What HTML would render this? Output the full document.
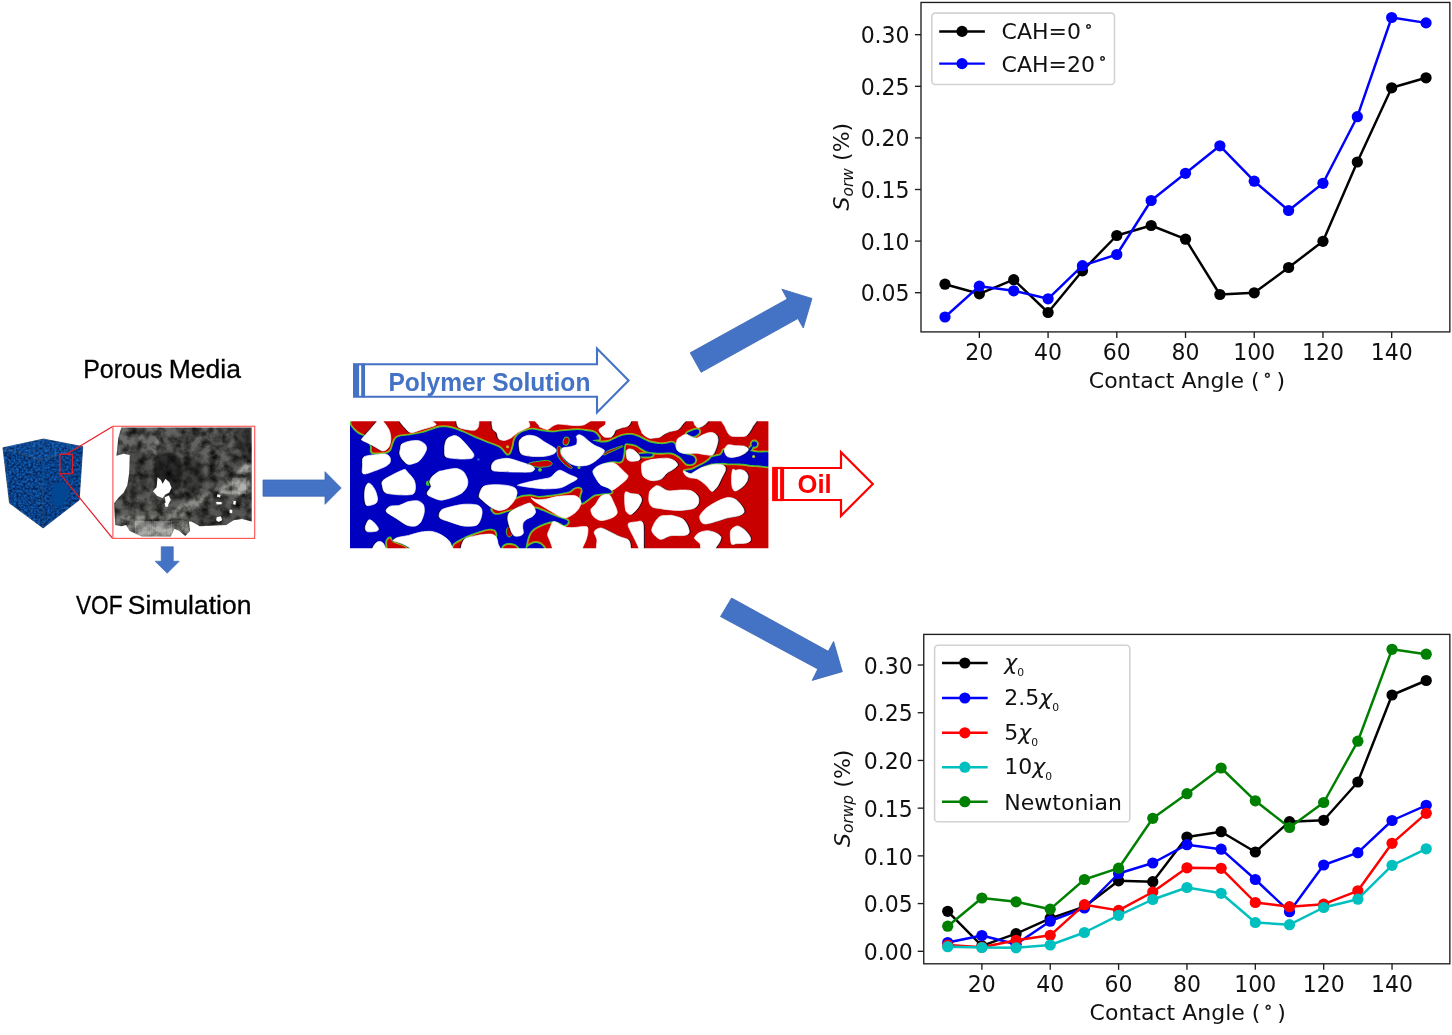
<!DOCTYPE html>
<html lang="en"><head><meta charset="utf-8"><title>Graphical abstract</title>
<style>
html,body{margin:0;padding:0;background:#fff}
body{width:1452px;height:1035px;overflow:hidden;position:relative}
svg{position:absolute;left:0;top:0;display:block}
</style></head><body>
<svg width="1452" height="1035" viewBox="0 0 1452 1035">
<g font-family="'DejaVu Sans','Liberation Sans',sans-serif" fill="#111"><rect x="921" y="2.45" width="528.85" height="329.45" fill="#fff"/><polyline points="945,284.2 979.36,293.8 1013.72,279.7 1048.08,312.5 1082.44,270.8 1116.8,235.5 1151.16,225.5 1185.52,239.2 1219.88,294.5 1254.24,292.8 1288.6,267.5 1322.96,241.3 1357.32,162 1391.68,87.8 1426.04,77.8" fill="none" stroke="#000" stroke-width="2.45" stroke-linejoin="round" stroke-linecap="butt"/><circle cx="945" cy="284.2" r="5.62" fill="#000"/><circle cx="979.36" cy="293.8" r="5.62" fill="#000"/><circle cx="1013.72" cy="279.7" r="5.62" fill="#000"/><circle cx="1048.08" cy="312.5" r="5.62" fill="#000"/><circle cx="1082.44" cy="270.8" r="5.62" fill="#000"/><circle cx="1116.8" cy="235.5" r="5.62" fill="#000"/><circle cx="1151.16" cy="225.5" r="5.62" fill="#000"/><circle cx="1185.52" cy="239.2" r="5.62" fill="#000"/><circle cx="1219.88" cy="294.5" r="5.62" fill="#000"/><circle cx="1254.24" cy="292.8" r="5.62" fill="#000"/><circle cx="1288.6" cy="267.5" r="5.62" fill="#000"/><circle cx="1322.96" cy="241.3" r="5.62" fill="#000"/><circle cx="1357.32" cy="162" r="5.62" fill="#000"/><circle cx="1391.68" cy="87.8" r="5.62" fill="#000"/><circle cx="1426.04" cy="77.8" r="5.62" fill="#000"/><polyline points="945,317 979.36,286.2 1013.72,290.8 1048.08,298.8 1082.44,265.7 1116.8,254.5 1151.16,200.5 1185.52,173.3 1219.88,145.8 1254.24,181.2 1288.6,210.5 1322.96,183.3 1357.32,116.7 1391.68,17.5 1426.04,22.9" fill="none" stroke="#0000ff" stroke-width="2.45" stroke-linejoin="round" stroke-linecap="butt"/><circle cx="945" cy="317" r="5.62" fill="#0000ff"/><circle cx="979.36" cy="286.2" r="5.62" fill="#0000ff"/><circle cx="1013.72" cy="290.8" r="5.62" fill="#0000ff"/><circle cx="1048.08" cy="298.8" r="5.62" fill="#0000ff"/><circle cx="1082.44" cy="265.7" r="5.62" fill="#0000ff"/><circle cx="1116.8" cy="254.5" r="5.62" fill="#0000ff"/><circle cx="1151.16" cy="200.5" r="5.62" fill="#0000ff"/><circle cx="1185.52" cy="173.3" r="5.62" fill="#0000ff"/><circle cx="1219.88" cy="145.8" r="5.62" fill="#0000ff"/><circle cx="1254.24" cy="181.2" r="5.62" fill="#0000ff"/><circle cx="1288.6" cy="210.5" r="5.62" fill="#0000ff"/><circle cx="1322.96" cy="183.3" r="5.62" fill="#0000ff"/><circle cx="1357.32" cy="116.7" r="5.62" fill="#0000ff"/><circle cx="1391.68" cy="17.5" r="5.62" fill="#0000ff"/><circle cx="1426.04" cy="22.9" r="5.62" fill="#0000ff"/><line x1="979.36" y1="331.9" x2="979.36" y2="337.97" stroke="#1e1e1e" stroke-width="1.35"/><text x="979.36" y="359.32" text-anchor="middle" font-size="22" transform="translate(0,351.29) scale(1,1.06) translate(0,-351.29)">20</text><line x1="1048.08" y1="331.9" x2="1048.08" y2="337.97" stroke="#1e1e1e" stroke-width="1.35"/><text x="1048.08" y="359.32" text-anchor="middle" font-size="22" transform="translate(0,351.29) scale(1,1.06) translate(0,-351.29)">40</text><line x1="1116.8" y1="331.9" x2="1116.8" y2="337.97" stroke="#1e1e1e" stroke-width="1.35"/><text x="1116.8" y="359.32" text-anchor="middle" font-size="22" transform="translate(0,351.29) scale(1,1.06) translate(0,-351.29)">60</text><line x1="1185.52" y1="331.9" x2="1185.52" y2="337.97" stroke="#1e1e1e" stroke-width="1.35"/><text x="1185.52" y="359.32" text-anchor="middle" font-size="22" transform="translate(0,351.29) scale(1,1.06) translate(0,-351.29)">80</text><line x1="1254.24" y1="331.9" x2="1254.24" y2="337.97" stroke="#1e1e1e" stroke-width="1.35"/><text x="1254.24" y="359.32" text-anchor="middle" font-size="22" transform="translate(0,351.29) scale(1,1.06) translate(0,-351.29)">100</text><line x1="1322.96" y1="331.9" x2="1322.96" y2="337.97" stroke="#1e1e1e" stroke-width="1.35"/><text x="1322.96" y="359.32" text-anchor="middle" font-size="22" transform="translate(0,351.29) scale(1,1.06) translate(0,-351.29)">120</text><line x1="1391.68" y1="331.9" x2="1391.68" y2="337.97" stroke="#1e1e1e" stroke-width="1.35"/><text x="1391.68" y="359.32" text-anchor="middle" font-size="22" transform="translate(0,351.29) scale(1,1.06) translate(0,-351.29)">140</text><line x1="914.93" y1="292.7" x2="921" y2="292.7" stroke="#1e1e1e" stroke-width="1.35"/><text x="909.6" y="300.71" text-anchor="end" font-size="22" transform="translate(0,292.68) scale(1,1.06) translate(0,-292.68)">0.05</text><line x1="914.93" y1="241.1" x2="921" y2="241.1" stroke="#1e1e1e" stroke-width="1.35"/><text x="909.6" y="249.11" text-anchor="end" font-size="22" transform="translate(0,241.08) scale(1,1.06) translate(0,-241.08)">0.10</text><line x1="914.93" y1="189.5" x2="921" y2="189.5" stroke="#1e1e1e" stroke-width="1.35"/><text x="909.6" y="197.51" text-anchor="end" font-size="22" transform="translate(0,189.48) scale(1,1.06) translate(0,-189.48)">0.15</text><line x1="914.93" y1="137.9" x2="921" y2="137.9" stroke="#1e1e1e" stroke-width="1.35"/><text x="909.6" y="145.91" text-anchor="end" font-size="22" transform="translate(0,137.88) scale(1,1.06) translate(0,-137.88)">0.20</text><line x1="914.93" y1="86.3" x2="921" y2="86.3" stroke="#1e1e1e" stroke-width="1.35"/><text x="909.6" y="94.31" text-anchor="end" font-size="22" transform="translate(0,86.28) scale(1,1.06) translate(0,-86.28)">0.25</text><line x1="914.93" y1="34.7" x2="921" y2="34.7" stroke="#1e1e1e" stroke-width="1.35"/><text x="909.6" y="42.71" text-anchor="end" font-size="22" transform="translate(0,34.68) scale(1,1.06) translate(0,-34.68)">0.30</text><rect x="921" y="2.45" width="528.85" height="329.45" fill="none" stroke="#1e1e1e" stroke-width="1.35"/><rect x="931.8" y="13.1" width="182.7" height="71.4" rx="3.4" ry="3.4" fill="#fff" fill-opacity="0.8" stroke="#d2d2d2" stroke-width="1.6"/><line x1="940.44" y1="31.4" x2="983.64" y2="31.4" stroke="#000" stroke-width="2.45" stroke-linecap="square"/><circle cx="962.04" cy="31.4" r="5.62" fill="#000"/><line x1="940.44" y1="63.6" x2="983.64" y2="63.6" stroke="#0000ff" stroke-width="2.45" stroke-linecap="square"/><circle cx="962.04" cy="63.6" r="5.62" fill="#0000ff"/><text x="1001.52" y="39.32" font-size="22">CAH=0<tspan font-size="14.52" dy="-8.8" dx="3" stroke="#111" stroke-width="0.45">∘</tspan></text><text x="1001.52" y="71.52" font-size="22">CAH=20<tspan font-size="14.52" dy="-8.8" dx="3" stroke="#111" stroke-width="0.45">∘</tspan></text><text x="1088.8" y="388.2" font-size="22">Contact Angle (<tspan font-size="15.4" dy="-7.92" dx="3.2" stroke="#111" stroke-width="0.45">∘</tspan><tspan dy="7.92" dx="4">)</tspan></text><text transform="translate(849.2,210.5) rotate(-90)" font-size="22"><tspan font-style="italic">S</tspan><tspan font-style="italic" font-size="15.4" dy="3.52">orw</tspan><tspan dy="-3.52" dx="7.26">(%)</tspan></text></g>
<g font-family="'DejaVu Sans','Liberation Sans',sans-serif" fill="#111"><rect x="923.75" y="634.4" width="526.1" height="329.4" fill="#fff"/><polyline points="947.7,911.3 981.88,945.8 1016.06,933.7 1050.24,918.3 1084.42,906.7 1118.6,880.8 1152.78,881.7 1186.96,837 1221.14,831.7 1255.32,852 1289.5,821.7 1323.68,820.3 1357.86,782 1392.04,695 1426.22,680.5" fill="none" stroke="#000" stroke-width="2.45" stroke-linejoin="round" stroke-linecap="butt"/><circle cx="947.7" cy="911.3" r="5.62" fill="#000"/><circle cx="981.88" cy="945.8" r="5.62" fill="#000"/><circle cx="1016.06" cy="933.7" r="5.62" fill="#000"/><circle cx="1050.24" cy="918.3" r="5.62" fill="#000"/><circle cx="1084.42" cy="906.7" r="5.62" fill="#000"/><circle cx="1118.6" cy="880.8" r="5.62" fill="#000"/><circle cx="1152.78" cy="881.7" r="5.62" fill="#000"/><circle cx="1186.96" cy="837" r="5.62" fill="#000"/><circle cx="1221.14" cy="831.7" r="5.62" fill="#000"/><circle cx="1255.32" cy="852" r="5.62" fill="#000"/><circle cx="1289.5" cy="821.7" r="5.62" fill="#000"/><circle cx="1323.68" cy="820.3" r="5.62" fill="#000"/><circle cx="1357.86" cy="782" r="5.62" fill="#000"/><circle cx="1392.04" cy="695" r="5.62" fill="#000"/><circle cx="1426.22" cy="680.5" r="5.62" fill="#000"/><polyline points="947.7,942.5 981.88,935.5 1016.06,944.2 1050.24,921.2 1084.42,908 1118.6,873.5 1152.78,863 1186.96,844.7 1221.14,849.2 1255.32,879.5 1289.5,911.7 1323.68,865 1357.86,852.7 1392.04,820.5 1426.22,805.3" fill="none" stroke="#0000ff" stroke-width="2.45" stroke-linejoin="round" stroke-linecap="butt"/><circle cx="947.7" cy="942.5" r="5.62" fill="#0000ff"/><circle cx="981.88" cy="935.5" r="5.62" fill="#0000ff"/><circle cx="1016.06" cy="944.2" r="5.62" fill="#0000ff"/><circle cx="1050.24" cy="921.2" r="5.62" fill="#0000ff"/><circle cx="1084.42" cy="908" r="5.62" fill="#0000ff"/><circle cx="1118.6" cy="873.5" r="5.62" fill="#0000ff"/><circle cx="1152.78" cy="863" r="5.62" fill="#0000ff"/><circle cx="1186.96" cy="844.7" r="5.62" fill="#0000ff"/><circle cx="1221.14" cy="849.2" r="5.62" fill="#0000ff"/><circle cx="1255.32" cy="879.5" r="5.62" fill="#0000ff"/><circle cx="1289.5" cy="911.7" r="5.62" fill="#0000ff"/><circle cx="1323.68" cy="865" r="5.62" fill="#0000ff"/><circle cx="1357.86" cy="852.7" r="5.62" fill="#0000ff"/><circle cx="1392.04" cy="820.5" r="5.62" fill="#0000ff"/><circle cx="1426.22" cy="805.3" r="5.62" fill="#0000ff"/><polyline points="947.7,945 981.88,947.2 1016.06,940.3 1050.24,935.3 1084.42,904.7 1118.6,910.4 1152.78,892 1186.96,867.8 1221.14,868.3 1255.32,902.5 1289.5,906.7 1323.68,904.2 1357.86,890.8 1392.04,843.3 1426.22,813.3" fill="none" stroke="#ff0000" stroke-width="2.45" stroke-linejoin="round" stroke-linecap="butt"/><circle cx="947.7" cy="945" r="5.62" fill="#ff0000"/><circle cx="981.88" cy="947.2" r="5.62" fill="#ff0000"/><circle cx="1016.06" cy="940.3" r="5.62" fill="#ff0000"/><circle cx="1050.24" cy="935.3" r="5.62" fill="#ff0000"/><circle cx="1084.42" cy="904.7" r="5.62" fill="#ff0000"/><circle cx="1118.6" cy="910.4" r="5.62" fill="#ff0000"/><circle cx="1152.78" cy="892" r="5.62" fill="#ff0000"/><circle cx="1186.96" cy="867.8" r="5.62" fill="#ff0000"/><circle cx="1221.14" cy="868.3" r="5.62" fill="#ff0000"/><circle cx="1255.32" cy="902.5" r="5.62" fill="#ff0000"/><circle cx="1289.5" cy="906.7" r="5.62" fill="#ff0000"/><circle cx="1323.68" cy="904.2" r="5.62" fill="#ff0000"/><circle cx="1357.86" cy="890.8" r="5.62" fill="#ff0000"/><circle cx="1392.04" cy="843.3" r="5.62" fill="#ff0000"/><circle cx="1426.22" cy="813.3" r="5.62" fill="#ff0000"/><polyline points="947.7,946.7 981.88,947.5 1016.06,947.8 1050.24,945 1084.42,932.5 1118.6,915.3 1152.78,899.5 1186.96,887.5 1221.14,893.3 1255.32,922.5 1289.5,924.7 1323.68,907.5 1357.86,899.2 1392.04,865.3 1426.22,848.8" fill="none" stroke="#00bfbf" stroke-width="2.45" stroke-linejoin="round" stroke-linecap="butt"/><circle cx="947.7" cy="946.7" r="5.62" fill="#00bfbf"/><circle cx="981.88" cy="947.5" r="5.62" fill="#00bfbf"/><circle cx="1016.06" cy="947.8" r="5.62" fill="#00bfbf"/><circle cx="1050.24" cy="945" r="5.62" fill="#00bfbf"/><circle cx="1084.42" cy="932.5" r="5.62" fill="#00bfbf"/><circle cx="1118.6" cy="915.3" r="5.62" fill="#00bfbf"/><circle cx="1152.78" cy="899.5" r="5.62" fill="#00bfbf"/><circle cx="1186.96" cy="887.5" r="5.62" fill="#00bfbf"/><circle cx="1221.14" cy="893.3" r="5.62" fill="#00bfbf"/><circle cx="1255.32" cy="922.5" r="5.62" fill="#00bfbf"/><circle cx="1289.5" cy="924.7" r="5.62" fill="#00bfbf"/><circle cx="1323.68" cy="907.5" r="5.62" fill="#00bfbf"/><circle cx="1357.86" cy="899.2" r="5.62" fill="#00bfbf"/><circle cx="1392.04" cy="865.3" r="5.62" fill="#00bfbf"/><circle cx="1426.22" cy="848.8" r="5.62" fill="#00bfbf"/><polyline points="947.7,926.2 981.88,898 1016.06,901.8 1050.24,909.2 1084.42,879.5 1118.6,868.2 1152.78,818.3 1186.96,793.7 1221.14,768 1255.32,800.8 1289.5,827.5 1323.68,802.5 1357.86,741.2 1392.04,649.3 1426.22,654.2" fill="none" stroke="#008000" stroke-width="2.45" stroke-linejoin="round" stroke-linecap="butt"/><circle cx="947.7" cy="926.2" r="5.62" fill="#008000"/><circle cx="981.88" cy="898" r="5.62" fill="#008000"/><circle cx="1016.06" cy="901.8" r="5.62" fill="#008000"/><circle cx="1050.24" cy="909.2" r="5.62" fill="#008000"/><circle cx="1084.42" cy="879.5" r="5.62" fill="#008000"/><circle cx="1118.6" cy="868.2" r="5.62" fill="#008000"/><circle cx="1152.78" cy="818.3" r="5.62" fill="#008000"/><circle cx="1186.96" cy="793.7" r="5.62" fill="#008000"/><circle cx="1221.14" cy="768" r="5.62" fill="#008000"/><circle cx="1255.32" cy="800.8" r="5.62" fill="#008000"/><circle cx="1289.5" cy="827.5" r="5.62" fill="#008000"/><circle cx="1323.68" cy="802.5" r="5.62" fill="#008000"/><circle cx="1357.86" cy="741.2" r="5.62" fill="#008000"/><circle cx="1392.04" cy="649.3" r="5.62" fill="#008000"/><circle cx="1426.22" cy="654.2" r="5.62" fill="#008000"/><line x1="981.88" y1="963.8" x2="981.88" y2="969.87" stroke="#1e1e1e" stroke-width="1.35"/><text x="981.88" y="992.02" text-anchor="middle" font-size="22" transform="translate(0,983.99) scale(1,1.06) translate(0,-983.99)">20</text><line x1="1050.24" y1="963.8" x2="1050.24" y2="969.87" stroke="#1e1e1e" stroke-width="1.35"/><text x="1050.24" y="992.02" text-anchor="middle" font-size="22" transform="translate(0,983.99) scale(1,1.06) translate(0,-983.99)">40</text><line x1="1118.6" y1="963.8" x2="1118.6" y2="969.87" stroke="#1e1e1e" stroke-width="1.35"/><text x="1118.6" y="992.02" text-anchor="middle" font-size="22" transform="translate(0,983.99) scale(1,1.06) translate(0,-983.99)">60</text><line x1="1186.96" y1="963.8" x2="1186.96" y2="969.87" stroke="#1e1e1e" stroke-width="1.35"/><text x="1186.96" y="992.02" text-anchor="middle" font-size="22" transform="translate(0,983.99) scale(1,1.06) translate(0,-983.99)">80</text><line x1="1255.32" y1="963.8" x2="1255.32" y2="969.87" stroke="#1e1e1e" stroke-width="1.35"/><text x="1255.32" y="992.02" text-anchor="middle" font-size="22" transform="translate(0,983.99) scale(1,1.06) translate(0,-983.99)">100</text><line x1="1323.68" y1="963.8" x2="1323.68" y2="969.87" stroke="#1e1e1e" stroke-width="1.35"/><text x="1323.68" y="992.02" text-anchor="middle" font-size="22" transform="translate(0,983.99) scale(1,1.06) translate(0,-983.99)">120</text><line x1="1392.04" y1="963.8" x2="1392.04" y2="969.87" stroke="#1e1e1e" stroke-width="1.35"/><text x="1392.04" y="992.02" text-anchor="middle" font-size="22" transform="translate(0,983.99) scale(1,1.06) translate(0,-983.99)">140</text><line x1="917.68" y1="951.3" x2="923.75" y2="951.3" stroke="#1e1e1e" stroke-width="1.35"/><text x="912.75" y="959.46" text-anchor="end" font-size="22" transform="translate(0,951.43) scale(1,1.06) translate(0,-951.43)">0.00</text><line x1="917.68" y1="903.58" x2="923.75" y2="903.58" stroke="#1e1e1e" stroke-width="1.35"/><text x="912.75" y="911.74" text-anchor="end" font-size="22" transform="translate(0,903.71) scale(1,1.06) translate(0,-903.71)">0.05</text><line x1="917.68" y1="855.87" x2="923.75" y2="855.87" stroke="#1e1e1e" stroke-width="1.35"/><text x="912.75" y="864.03" text-anchor="end" font-size="22" transform="translate(0,856) scale(1,1.06) translate(0,-856)">0.10</text><line x1="917.68" y1="808.15" x2="923.75" y2="808.15" stroke="#1e1e1e" stroke-width="1.35"/><text x="912.75" y="816.31" text-anchor="end" font-size="22" transform="translate(0,808.28) scale(1,1.06) translate(0,-808.28)">0.15</text><line x1="917.68" y1="760.44" x2="923.75" y2="760.44" stroke="#1e1e1e" stroke-width="1.35"/><text x="912.75" y="768.6" text-anchor="end" font-size="22" transform="translate(0,760.57) scale(1,1.06) translate(0,-760.57)">0.20</text><line x1="917.68" y1="712.72" x2="923.75" y2="712.72" stroke="#1e1e1e" stroke-width="1.35"/><text x="912.75" y="720.88" text-anchor="end" font-size="22" transform="translate(0,712.85) scale(1,1.06) translate(0,-712.85)">0.25</text><line x1="917.68" y1="665.01" x2="923.75" y2="665.01" stroke="#1e1e1e" stroke-width="1.35"/><text x="912.75" y="673.17" text-anchor="end" font-size="22" transform="translate(0,665.14) scale(1,1.06) translate(0,-665.14)">0.30</text><rect x="923.75" y="634.4" width="526.1" height="329.4" fill="none" stroke="#1e1e1e" stroke-width="1.35"/><rect x="934.6" y="645.2" width="195.2" height="176.6" rx="3.4" ry="3.4" fill="#fff" fill-opacity="0.8" stroke="#d2d2d2" stroke-width="1.6"/><line x1="943.24" y1="663" x2="986.44" y2="663" stroke="#000" stroke-width="2.45" stroke-linecap="square"/><circle cx="964.84" cy="663" r="5.62" fill="#000"/><line x1="943.24" y1="698" x2="986.44" y2="698" stroke="#0000ff" stroke-width="2.45" stroke-linecap="square"/><circle cx="964.84" cy="698" r="5.62" fill="#0000ff"/><line x1="943.24" y1="732.8" x2="986.44" y2="732.8" stroke="#ff0000" stroke-width="2.45" stroke-linecap="square"/><circle cx="964.84" cy="732.8" r="5.62" fill="#ff0000"/><line x1="943.24" y1="767.2" x2="986.44" y2="767.2" stroke="#00bfbf" stroke-width="2.45" stroke-linecap="square"/><circle cx="964.84" cy="767.2" r="5.62" fill="#00bfbf"/><line x1="943.24" y1="801.7" x2="986.44" y2="801.7" stroke="#008000" stroke-width="2.45" stroke-linecap="square"/><circle cx="964.84" cy="801.7" r="5.62" fill="#008000"/><text x="1004.32" y="670.26" font-size="22"><tspan font-style="italic">χ</tspan><tspan font-size="10.78" dy="5.94">0</tspan></text><text x="1004.32" y="705.26" font-size="22">2.5<tspan font-style="italic">χ</tspan><tspan font-size="10.78" dy="5.94">0</tspan></text><text x="1004.32" y="740.06" font-size="22">5<tspan font-style="italic">χ</tspan><tspan font-size="10.78" dy="5.94">0</tspan></text><text x="1004.32" y="774.46" font-size="22">10<tspan font-style="italic">χ</tspan><tspan font-size="10.78" dy="5.94">0</tspan></text><text x="1004.32" y="809.62" font-size="22">Newtonian</text><text x="1089.6" y="1020" font-size="22">Contact Angle (<tspan font-size="15.4" dy="-7.92" dx="3.2" stroke="#111" stroke-width="0.45">∘</tspan><tspan dy="7.92" dx="4">)</tspan></text><text transform="translate(849.5,847) rotate(-90)" font-size="22"><tspan font-style="italic">S</tspan><tspan font-style="italic" font-size="15.4" dy="3.52">orwp</tspan><tspan dy="-3.52" dx="7.26">(%)</tspan></text></g>
<polygon points="690.2,352.8 787.2,299.1 781.9,289.2 812,298.5 803.3,328 797.8,318.6 701.1,372.3" fill="#4472C4" stroke="#3c67b4" stroke-width="0.8" stroke-linejoin="miter"/><polygon points="731.6,598 828.3,651.3 833.6,641.4 842.3,671.7 812.2,680.4 817.8,669 720.5,616.6" fill="#4472C4" stroke="#3c67b4" stroke-width="0.8" stroke-linejoin="miter"/><polygon points="263,480 325,480 325,471.7 341.2,488 325,504.3 325,496.2 263,496.2" fill="#4472C4" stroke="#3c67b4" stroke-width="0.8" stroke-linejoin="miter"/><polygon points="161.2,546.7 173.3,546.7 173.3,561.2 179.3,561.2 167.2,573.3 155,561.2 161.2,561.2" fill="#4472C4" stroke="#3c67b4" stroke-width="0.6" stroke-linejoin="miter"/><g fill="#fff" stroke="#4472C4" stroke-width="2.1" stroke-linejoin="miter"><rect x="353" y="363.2" width="11.5" height="34.55" fill="#4472C4" stroke="none"/><rect x="359.1" y="365.4" width="2.1" height="30.3" fill="#fff" stroke="none"/><polygon points="364,364.3 597,364.3 597,348.6 628.6,380.5 597,412.4 597,396.7 364,396.7" fill="#fff"/></g><text x="388.4" y="390.7" font-family="'Liberation Sans',Arial,sans-serif" font-weight="bold" font-size="25.3" fill="#4472C4" textLength="202" lengthAdjust="spacingAndGlyphs">Polymer Solution</text><g fill="#fff" stroke="#ff0000" stroke-width="2.2" stroke-linejoin="miter"><rect x="772.1" y="466.9" width="11.4" height="34.2" fill="#ff0000" stroke="none"/><rect x="777.9" y="469.1" width="2.2" height="29.8" fill="#fff" stroke="none"/><polygon points="783,468 841,468 841,452.2 872.8,484 841,515.8 841,500 783,500" fill="#fff"/></g><text x="797.6" y="493.3" font-family="'Liberation Sans',Arial,sans-serif" font-weight="bold" font-size="25.6" fill="#ff0000">Oil</text><text x="83.2" y="377.5" font-family="'Liberation Sans',Arial,sans-serif" font-size="25.6" fill="#000" stroke="#000" stroke-width="0.3" textLength="79.2" lengthAdjust="spacingAndGlyphs">Porous</text><text x="168.7" y="377.5" font-family="'Liberation Sans',Arial,sans-serif" font-size="25.6" fill="#000" stroke="#000" stroke-width="0.3" textLength="72.2" lengthAdjust="spacingAndGlyphs">Media</text><text x="76.0" y="613.8" font-family="'Liberation Sans',Arial,sans-serif" font-size="25.6" fill="#000" stroke="#000" stroke-width="0.3" textLength="46.5" lengthAdjust="spacingAndGlyphs">VOF</text><text x="127.8" y="613.8" font-family="'Liberation Sans',Arial,sans-serif" font-size="25.6" fill="#000" stroke="#000" stroke-width="0.3" textLength="123.6" lengthAdjust="spacingAndGlyphs">Simulation</text>
<defs><clipPath id="flowClip"><rect x="350" y="421.3" width="418.4" height="126.9"/></clipPath><filter id="fblur" x="-0.02" y="-0.05" width="1.04" height="1.1"><feGaussianBlur stdDeviation="0.35"/></filter></defs><g clip-path="url(#flowClip)"><g filter="url(#fblur)"><rect x="348" y="419.3" width="422.4" height="130.9" fill="#c80000"/><g fill="#0000c0" stroke="#d09a00" stroke-width="3.7" stroke-linejoin="round"><path d="M347.7,420.4C348.1,401.2 349.2,423.8 350,425.1C350.8,426.5 351.8,427.9 353.1,429.2C354.4,430.5 356.8,432.8 358.5,433.9C360.3,435.1 363.2,435.4 364.6,436.7C366,437.9 367.2,440.5 368,442.1C368.8,443.6 369.8,445.5 370,446.8C370.3,448.1 369.4,449.7 369.8,450.9C370.2,452 370.4,453.8 372.7,454.2C375.1,454.7 382.9,454.4 385.6,453.8C388.3,453.3 389.9,451.9 391,450.5C392.1,449 392.5,445.8 393.2,444.1C393.8,442.4 394.4,440.5 395.3,439.4C396.2,438.2 396.9,437.3 399.1,436.7C401.3,436 406.7,435.8 410,435.3C413.2,434.8 417.5,434.1 420.8,433.3C424,432.5 428.8,430.8 431.6,429.9C434.4,429 437.3,427.8 439.7,427.4C442.2,427.1 445.5,427.2 447.8,427.4C450.1,427.7 452.7,428.4 455,429.2C457.4,430 460.2,431.2 463.5,432.6C466.8,434 473,437 477.1,438.7C481.1,440.4 487.1,442.7 490.6,444.1C494,445.5 498,446.8 500.1,448.2C502.1,449.5 503,451.8 504.1,452.9C505.2,454 506.5,455.5 507.5,455.6C508.5,455.7 510,455 510.9,453.6C511.8,452.1 513,448.3 513.6,446.1C514.2,444 513.9,441.3 515,439.4C516,437.4 517.9,434.7 520.4,433.3C522.8,431.8 527.9,429.9 531.2,429.6C534.4,429.3 538.8,430.8 542,431.2C545.3,431.6 550.3,432.3 552.8,432.3C555.4,432.4 556.3,431.9 558.9,431.6C561.6,431.4 567.5,430.7 570.3,430.5C573.1,430.3 575.6,430.1 577.9,430.1C580.2,430.2 583.2,430.6 585.5,430.9C587.7,431.2 591.4,431.5 593,432C594.7,432.5 595.6,433.5 596.4,434.3C597.3,435.1 598.3,436.6 598.7,437.3C599.1,438.1 599.6,438.8 598.9,439.2C598.3,439.6 595.5,439.6 594.5,439.8C593.6,440 592.7,440.2 592.7,440.4C592.7,440.6 593.4,440.8 594.5,441.1C595.7,441.4 598.6,442.3 600.6,442.4C602.7,442.5 605.9,442.5 608.2,441.9C610.5,441.3 613.5,439.4 615.8,438.5C618,437.5 621.1,436.1 623.3,435.6C625.6,435 628.6,434.6 630.9,434.8C633.2,435 636.2,436.1 638.5,436.9C640.8,437.8 644.3,439.9 646.1,440.7C647.8,441.5 647.9,441.9 650,442.4C652.1,442.9 657.6,443.9 660,444.1C662.4,444.3 664.4,444 666.1,443.8C667.8,443.5 670.1,442.6 671.4,442.6C672.6,442.6 673.7,442.9 674.4,443.8C675.1,444.6 675.3,447.2 675.9,448.3C676.5,449.4 677.2,450.5 678.2,451.3C679.2,452.1 681.1,453 682.7,453.6C684.3,454.2 687.2,454.7 688.8,455.1C690.4,455.6 692.4,456 693.3,456.6C694.3,457.3 695.1,458.8 695.2,459.7C695.3,460.6 694.8,462 694.1,462.7C693.4,463.4 691.4,464.1 690.3,464.2C689.2,464.3 687.5,464 686.5,463.5C685.5,462.9 684.5,461.4 683.5,460.4C682.5,459.4 681.2,457.7 679.7,456.6C678.2,455.6 675.5,453.9 673.6,453.2C671.8,452.6 669.6,452.5 667.6,452.5C665.5,452.4 662.6,452.9 660,452.8C657.4,452.8 652.1,452.4 650,452.1C647.9,451.8 647.3,451.5 646.1,451C644.8,450.4 642.9,449.1 641.5,448.3C640.2,447.5 638.6,446.1 637,445.4C635.4,444.7 632.6,444.1 630.9,443.8C629.2,443.5 626.7,442.9 625.6,443.4C624.6,443.9 624.2,445.9 623.9,447.2C623.7,448.5 623.9,450.4 623.7,452.1C623.5,453.7 623.1,456.7 622.6,458.2C622.1,459.6 621.8,461.1 620.3,461.6C618.8,462 615,461 612.7,461.2C610.5,461.4 607.4,461.9 605.2,462.7C602.9,463.5 599.4,465.3 597.6,466.5C595.8,467.6 593.7,469.1 593,470.3C592.3,471.4 592.6,472.8 593,474.1C593.5,475.3 594.9,477 596.1,478.6C597.2,480.2 598.8,483.2 600.6,484.7C602.4,486.1 606.6,487.5 608.2,488.5C609.8,489.4 610.9,490.5 611.2,491.1C611.6,491.8 611.8,492.5 610.5,492.8C609.2,493.2 604.8,493.2 602.4,493.5C599.9,493.8 596.5,493.9 594.2,494.8C592,495.8 589.3,498.4 587.5,499.6C585.6,500.8 583.1,503.1 582.1,503C581.1,502.9 580.8,500.2 580.8,498.9C580.7,497.7 581.2,495.9 581.5,494.8C581.8,493.6 582.6,492.4 582.6,491.4C582.6,490.3 582.4,488.7 581.7,488C581,487.2 579.1,486.6 577.9,486.7C576.6,486.7 574.6,487.5 573.3,488.2C572.1,488.9 571.2,490.5 569.5,491.2C567.8,491.9 564.8,492.3 562,492.9C559.1,493.4 554,494.3 550.6,494.8C547.2,495.2 542.1,496 539.2,495.9C536.4,495.9 533.9,494.6 531.7,494.4C529.4,494.2 526.4,494.4 524.1,494.8C521.8,495.2 519.4,495.9 516.5,497C513.7,498.2 509,501.1 505.2,502.7C501.3,504.4 493.2,506.7 491.1,508C489.1,509.4 491,510.9 491.5,511.8C492,512.8 493.3,514.1 494.5,514.5C495.8,514.9 497.7,514.9 499.8,514.5C502,514.1 505.9,512.4 508.9,511.8C512,511.2 516.4,510.8 520.3,510.3C524.2,509.8 531.3,508.3 534.7,508.4C538.1,508.5 540.6,510.2 543,511.1C545.4,512 548.3,513.5 550.6,514.5C552.9,515.4 555.9,516.7 558.2,517.5C560.5,518.3 564.3,519.1 565.8,519.8C567.2,520.4 567.9,521 568,521.7C568.1,522.3 567.2,523.8 566.5,524.3C565.8,524.8 564.3,525.2 563.5,525.1C562.7,525 562.2,524.1 561.2,523.6C560.2,523 558,522 556.7,521.7C555.3,521.3 553.7,521.1 552.1,521.3C550.5,521.5 548,522.2 546.1,522.8C544.1,523.4 541.1,524.6 539.2,525.5C537.4,526.3 535.3,527.5 533.9,528.5C532.6,529.5 531.1,530.9 530.2,532.3C529.2,533.6 528.4,535.9 527.9,537.6C527.3,539.3 526.7,542 526.4,543.6C526,545.2 525.7,547 525.6,548.2C525.5,549.3 526.6,550.8 525.6,551.2C524.6,551.7 520.1,551.7 519.2,551.2C518.2,550.7 519.3,548.5 519.2,547.8C519.1,547.1 518.9,547.2 518.4,546.7C517.9,546.2 516.7,544.9 515.8,544.4C514.8,543.9 513.3,543.4 512,543.3C510.6,543.1 508,543 506.7,543.3C505.3,543.5 503.7,544.5 502.9,545.2C502.1,545.8 501.6,546.9 501.4,547.8C501.1,548.7 501.8,550.4 501.4,551.2C501,552 499.2,554.2 498.7,553C498.2,551.9 498.3,545.8 498,543.6C497.7,541.3 496.8,539.5 496.7,538.1C496.6,536.8 497.6,536 497.4,534.8C497.2,533.5 496.5,530.9 495.3,530C494.1,529.1 492,528.4 489.2,528.7C486.5,529 480.9,530.7 477.1,532.1C473.2,533.4 466.8,535.9 463.5,537.5C460.2,539 456.5,541.3 455,542.2C453.5,543.1 453.9,542.6 453.3,543.6C452.6,544.5 451.4,546.9 450.5,548.3C449.7,549.7 453.9,552.3 447.8,553C441.8,553.7 415.6,553.7 410,553C404.3,552.3 411.2,549.7 410,548.3C408.7,546.9 404.3,544.7 401.8,543.6C399.4,542.4 395.3,541.9 393.7,540.8C392.1,539.8 391.9,537.3 391,536.8C390.1,536.3 388.5,536.8 387.6,537.5C386.8,538.2 385.6,539.9 385.3,541.5C385,543.1 385.6,546.6 385.6,548.3C385.6,550 391.3,552.3 385.6,553C379.9,553.7 353.4,572.9 347.7,553C342,533.1 347.4,439.6 347.7,420.4Z"/><path d="M770.6,453.2C768.8,451.2 761.4,452.8 758.5,452.5C755.5,452.2 752.4,451.7 750.9,451.3C749.4,451 750.9,450.7 748.6,450.2C746.4,449.7 739.4,448.4 735.8,448.3C732.1,448.2 726.3,449.2 724.4,449.8C722.5,450.4 723.4,451.3 722.9,452.1C722.3,452.9 721.6,454.5 720.6,455.1C719.6,455.7 717.4,455.9 716.1,456.3C714.7,456.6 712.5,456.9 711.5,457.4C710.5,457.9 710.5,458.9 709.6,459.7C708.7,460.5 707,461.7 705.5,462.7C703.9,463.7 701.3,465.1 699.4,466.1C697.5,467.1 694.6,468.8 692.6,469.5C690.5,470.2 686.9,470.4 685.8,470.7C684.6,470.9 684.3,471 685,471.4C685.7,471.8 689.1,473.2 690.3,473.3C691.6,473.4 692,472.7 693.3,471.9C694.7,471.2 697.6,469.3 699.4,468.4C701.2,467.4 703.6,466.3 705.5,465.6C707.3,464.9 709.7,464 711.5,463.6C713.3,463.2 715.9,463.3 717.6,463.2C719.3,463 721.3,462.8 722.9,462.8C724.5,462.9 726.3,463.4 728.2,463.5C730.1,463.5 733.5,463.4 735.8,463.5C738,463.5 741.1,463.6 743.3,463.8C745.6,464.1 748.6,464.7 750.9,465C753.2,465.2 755.5,465.2 758.5,465.3C761.4,465.5 768.8,467.5 770.6,465.7C772.4,463.9 772.4,455.2 770.6,453.2Z"/><path d="M750.9,446.8C751.3,446.4 753,445.9 753,446.2C753,446.5 751.3,449.8 750.9,450.2C750.5,450.6 748.3,451 748.3,450.7C748.3,450.4 750.5,447.2 750.9,446.8Z"/><path d="M686.9,433.5C686.8,432.6 690.2,431.6 691.8,430.9C693.4,430.2 695.2,429.4 696.4,429.4C697.6,429.3 698.6,429.9 699,430.5C699.4,431.1 699.2,432.3 698.6,433.2C698.1,434 696.6,434.9 695.6,435.4C694.6,435.9 694,436.5 692.6,436.2C691.1,435.9 687,434.4 686.9,433.5Z"/><path d="M639.6,454.2C641.2,453.8 647.5,453.5 649.7,453.6C651.9,453.7 652.7,454.4 652.7,454.9C652.7,455.4 651.8,456.2 649.7,456.4C647.6,456.6 641.9,456.6 640.3,456.3C638.6,455.9 638,454.7 639.6,454.2Z"/><path d="M527.1,551.2C524.9,550.8 526.6,548.7 527.1,547.8C527.6,546.9 529.8,545.1 530.9,544.4C532,543.7 534.2,542.9 535.5,542.9C536.7,542.8 539,543.5 540,544C541,544.5 542.5,546.2 543,546.7C543.5,547.2 543.7,547.2 543.8,547.8C543.9,548.4 546,550.8 543.8,551.2C541.6,551.7 529.3,551.7 527.1,551.2Z"/><circle cx="754.3" cy="444.1" r="2.7" /></g><g fill="#0000c0" stroke="#3fc33a" stroke-width="2.3" stroke-linejoin="round"><path d="M347.7,420.4C348.1,401.2 349.2,423.8 350,425.1C350.8,426.5 351.8,427.9 353.1,429.2C354.4,430.5 356.8,432.8 358.5,433.9C360.3,435.1 363.2,435.4 364.6,436.7C366,437.9 367.2,440.5 368,442.1C368.8,443.6 369.8,445.5 370,446.8C370.3,448.1 369.4,449.7 369.8,450.9C370.2,452 370.4,453.8 372.7,454.2C375.1,454.7 382.9,454.4 385.6,453.8C388.3,453.3 389.9,451.9 391,450.5C392.1,449 392.5,445.8 393.2,444.1C393.8,442.4 394.4,440.5 395.3,439.4C396.2,438.2 396.9,437.3 399.1,436.7C401.3,436 406.7,435.8 410,435.3C413.2,434.8 417.5,434.1 420.8,433.3C424,432.5 428.8,430.8 431.6,429.9C434.4,429 437.3,427.8 439.7,427.4C442.2,427.1 445.5,427.2 447.8,427.4C450.1,427.7 452.7,428.4 455,429.2C457.4,430 460.2,431.2 463.5,432.6C466.8,434 473,437 477.1,438.7C481.1,440.4 487.1,442.7 490.6,444.1C494,445.5 498,446.8 500.1,448.2C502.1,449.5 503,451.8 504.1,452.9C505.2,454 506.5,455.5 507.5,455.6C508.5,455.7 510,455 510.9,453.6C511.8,452.1 513,448.3 513.6,446.1C514.2,444 513.9,441.3 515,439.4C516,437.4 517.9,434.7 520.4,433.3C522.8,431.8 527.9,429.9 531.2,429.6C534.4,429.3 538.8,430.8 542,431.2C545.3,431.6 550.3,432.3 552.8,432.3C555.4,432.4 556.3,431.9 558.9,431.6C561.6,431.4 567.5,430.7 570.3,430.5C573.1,430.3 575.6,430.1 577.9,430.1C580.2,430.2 583.2,430.6 585.5,430.9C587.7,431.2 591.4,431.5 593,432C594.7,432.5 595.6,433.5 596.4,434.3C597.3,435.1 598.3,436.6 598.7,437.3C599.1,438.1 599.6,438.8 598.9,439.2C598.3,439.6 595.5,439.6 594.5,439.8C593.6,440 592.7,440.2 592.7,440.4C592.7,440.6 593.4,440.8 594.5,441.1C595.7,441.4 598.6,442.3 600.6,442.4C602.7,442.5 605.9,442.5 608.2,441.9C610.5,441.3 613.5,439.4 615.8,438.5C618,437.5 621.1,436.1 623.3,435.6C625.6,435 628.6,434.6 630.9,434.8C633.2,435 636.2,436.1 638.5,436.9C640.8,437.8 644.3,439.9 646.1,440.7C647.8,441.5 647.9,441.9 650,442.4C652.1,442.9 657.6,443.9 660,444.1C662.4,444.3 664.4,444 666.1,443.8C667.8,443.5 670.1,442.6 671.4,442.6C672.6,442.6 673.7,442.9 674.4,443.8C675.1,444.6 675.3,447.2 675.9,448.3C676.5,449.4 677.2,450.5 678.2,451.3C679.2,452.1 681.1,453 682.7,453.6C684.3,454.2 687.2,454.7 688.8,455.1C690.4,455.6 692.4,456 693.3,456.6C694.3,457.3 695.1,458.8 695.2,459.7C695.3,460.6 694.8,462 694.1,462.7C693.4,463.4 691.4,464.1 690.3,464.2C689.2,464.3 687.5,464 686.5,463.5C685.5,462.9 684.5,461.4 683.5,460.4C682.5,459.4 681.2,457.7 679.7,456.6C678.2,455.6 675.5,453.9 673.6,453.2C671.8,452.6 669.6,452.5 667.6,452.5C665.5,452.4 662.6,452.9 660,452.8C657.4,452.8 652.1,452.4 650,452.1C647.9,451.8 647.3,451.5 646.1,451C644.8,450.4 642.9,449.1 641.5,448.3C640.2,447.5 638.6,446.1 637,445.4C635.4,444.7 632.6,444.1 630.9,443.8C629.2,443.5 626.7,442.9 625.6,443.4C624.6,443.9 624.2,445.9 623.9,447.2C623.7,448.5 623.9,450.4 623.7,452.1C623.5,453.7 623.1,456.7 622.6,458.2C622.1,459.6 621.8,461.1 620.3,461.6C618.8,462 615,461 612.7,461.2C610.5,461.4 607.4,461.9 605.2,462.7C602.9,463.5 599.4,465.3 597.6,466.5C595.8,467.6 593.7,469.1 593,470.3C592.3,471.4 592.6,472.8 593,474.1C593.5,475.3 594.9,477 596.1,478.6C597.2,480.2 598.8,483.2 600.6,484.7C602.4,486.1 606.6,487.5 608.2,488.5C609.8,489.4 610.9,490.5 611.2,491.1C611.6,491.8 611.8,492.5 610.5,492.8C609.2,493.2 604.8,493.2 602.4,493.5C599.9,493.8 596.5,493.9 594.2,494.8C592,495.8 589.3,498.4 587.5,499.6C585.6,500.8 583.1,503.1 582.1,503C581.1,502.9 580.8,500.2 580.8,498.9C580.7,497.7 581.2,495.9 581.5,494.8C581.8,493.6 582.6,492.4 582.6,491.4C582.6,490.3 582.4,488.7 581.7,488C581,487.2 579.1,486.6 577.9,486.7C576.6,486.7 574.6,487.5 573.3,488.2C572.1,488.9 571.2,490.5 569.5,491.2C567.8,491.9 564.8,492.3 562,492.9C559.1,493.4 554,494.3 550.6,494.8C547.2,495.2 542.1,496 539.2,495.9C536.4,495.9 533.9,494.6 531.7,494.4C529.4,494.2 526.4,494.4 524.1,494.8C521.8,495.2 519.4,495.9 516.5,497C513.7,498.2 509,501.1 505.2,502.7C501.3,504.4 493.2,506.7 491.1,508C489.1,509.4 491,510.9 491.5,511.8C492,512.8 493.3,514.1 494.5,514.5C495.8,514.9 497.7,514.9 499.8,514.5C502,514.1 505.9,512.4 508.9,511.8C512,511.2 516.4,510.8 520.3,510.3C524.2,509.8 531.3,508.3 534.7,508.4C538.1,508.5 540.6,510.2 543,511.1C545.4,512 548.3,513.5 550.6,514.5C552.9,515.4 555.9,516.7 558.2,517.5C560.5,518.3 564.3,519.1 565.8,519.8C567.2,520.4 567.9,521 568,521.7C568.1,522.3 567.2,523.8 566.5,524.3C565.8,524.8 564.3,525.2 563.5,525.1C562.7,525 562.2,524.1 561.2,523.6C560.2,523 558,522 556.7,521.7C555.3,521.3 553.7,521.1 552.1,521.3C550.5,521.5 548,522.2 546.1,522.8C544.1,523.4 541.1,524.6 539.2,525.5C537.4,526.3 535.3,527.5 533.9,528.5C532.6,529.5 531.1,530.9 530.2,532.3C529.2,533.6 528.4,535.9 527.9,537.6C527.3,539.3 526.7,542 526.4,543.6C526,545.2 525.7,547 525.6,548.2C525.5,549.3 526.6,550.8 525.6,551.2C524.6,551.7 520.1,551.7 519.2,551.2C518.2,550.7 519.3,548.5 519.2,547.8C519.1,547.1 518.9,547.2 518.4,546.7C517.9,546.2 516.7,544.9 515.8,544.4C514.8,543.9 513.3,543.4 512,543.3C510.6,543.1 508,543 506.7,543.3C505.3,543.5 503.7,544.5 502.9,545.2C502.1,545.8 501.6,546.9 501.4,547.8C501.1,548.7 501.8,550.4 501.4,551.2C501,552 499.2,554.2 498.7,553C498.2,551.9 498.3,545.8 498,543.6C497.7,541.3 496.8,539.5 496.7,538.1C496.6,536.8 497.6,536 497.4,534.8C497.2,533.5 496.5,530.9 495.3,530C494.1,529.1 492,528.4 489.2,528.7C486.5,529 480.9,530.7 477.1,532.1C473.2,533.4 466.8,535.9 463.5,537.5C460.2,539 456.5,541.3 455,542.2C453.5,543.1 453.9,542.6 453.3,543.6C452.6,544.5 451.4,546.9 450.5,548.3C449.7,549.7 453.9,552.3 447.8,553C441.8,553.7 415.6,553.7 410,553C404.3,552.3 411.2,549.7 410,548.3C408.7,546.9 404.3,544.7 401.8,543.6C399.4,542.4 395.3,541.9 393.7,540.8C392.1,539.8 391.9,537.3 391,536.8C390.1,536.3 388.5,536.8 387.6,537.5C386.8,538.2 385.6,539.9 385.3,541.5C385,543.1 385.6,546.6 385.6,548.3C385.6,550 391.3,552.3 385.6,553C379.9,553.7 353.4,572.9 347.7,553C342,533.1 347.4,439.6 347.7,420.4Z"/><path d="M770.6,453.2C768.8,451.2 761.4,452.8 758.5,452.5C755.5,452.2 752.4,451.7 750.9,451.3C749.4,451 750.9,450.7 748.6,450.2C746.4,449.7 739.4,448.4 735.8,448.3C732.1,448.2 726.3,449.2 724.4,449.8C722.5,450.4 723.4,451.3 722.9,452.1C722.3,452.9 721.6,454.5 720.6,455.1C719.6,455.7 717.4,455.9 716.1,456.3C714.7,456.6 712.5,456.9 711.5,457.4C710.5,457.9 710.5,458.9 709.6,459.7C708.7,460.5 707,461.7 705.5,462.7C703.9,463.7 701.3,465.1 699.4,466.1C697.5,467.1 694.6,468.8 692.6,469.5C690.5,470.2 686.9,470.4 685.8,470.7C684.6,470.9 684.3,471 685,471.4C685.7,471.8 689.1,473.2 690.3,473.3C691.6,473.4 692,472.7 693.3,471.9C694.7,471.2 697.6,469.3 699.4,468.4C701.2,467.4 703.6,466.3 705.5,465.6C707.3,464.9 709.7,464 711.5,463.6C713.3,463.2 715.9,463.3 717.6,463.2C719.3,463 721.3,462.8 722.9,462.8C724.5,462.9 726.3,463.4 728.2,463.5C730.1,463.5 733.5,463.4 735.8,463.5C738,463.5 741.1,463.6 743.3,463.8C745.6,464.1 748.6,464.7 750.9,465C753.2,465.2 755.5,465.2 758.5,465.3C761.4,465.5 768.8,467.5 770.6,465.7C772.4,463.9 772.4,455.2 770.6,453.2Z"/><path d="M750.9,446.8C751.3,446.4 753,445.9 753,446.2C753,446.5 751.3,449.8 750.9,450.2C750.5,450.6 748.3,451 748.3,450.7C748.3,450.4 750.5,447.2 750.9,446.8Z"/><path d="M686.9,433.5C686.8,432.6 690.2,431.6 691.8,430.9C693.4,430.2 695.2,429.4 696.4,429.4C697.6,429.3 698.6,429.9 699,430.5C699.4,431.1 699.2,432.3 698.6,433.2C698.1,434 696.6,434.9 695.6,435.4C694.6,435.9 694,436.5 692.6,436.2C691.1,435.9 687,434.4 686.9,433.5Z"/><path d="M639.6,454.2C641.2,453.8 647.5,453.5 649.7,453.6C651.9,453.7 652.7,454.4 652.7,454.9C652.7,455.4 651.8,456.2 649.7,456.4C647.6,456.6 641.9,456.6 640.3,456.3C638.6,455.9 638,454.7 639.6,454.2Z"/><path d="M527.1,551.2C524.9,550.8 526.6,548.7 527.1,547.8C527.6,546.9 529.8,545.1 530.9,544.4C532,543.7 534.2,542.9 535.5,542.9C536.7,542.8 539,543.5 540,544C541,544.5 542.5,546.2 543,546.7C543.5,547.2 543.7,547.2 543.8,547.8C543.9,548.4 546,550.8 543.8,551.2C541.6,551.7 529.3,551.7 527.1,551.2Z"/><circle cx="754.3" cy="444.1" r="2.7" /></g><g fill="#0000c0"><path d="M347.7,420.4C348.1,401.2 349.2,423.8 350,425.1C350.8,426.5 351.8,427.9 353.1,429.2C354.4,430.5 356.8,432.8 358.5,433.9C360.3,435.1 363.2,435.4 364.6,436.7C366,437.9 367.2,440.5 368,442.1C368.8,443.6 369.8,445.5 370,446.8C370.3,448.1 369.4,449.7 369.8,450.9C370.2,452 370.4,453.8 372.7,454.2C375.1,454.7 382.9,454.4 385.6,453.8C388.3,453.3 389.9,451.9 391,450.5C392.1,449 392.5,445.8 393.2,444.1C393.8,442.4 394.4,440.5 395.3,439.4C396.2,438.2 396.9,437.3 399.1,436.7C401.3,436 406.7,435.8 410,435.3C413.2,434.8 417.5,434.1 420.8,433.3C424,432.5 428.8,430.8 431.6,429.9C434.4,429 437.3,427.8 439.7,427.4C442.2,427.1 445.5,427.2 447.8,427.4C450.1,427.7 452.7,428.4 455,429.2C457.4,430 460.2,431.2 463.5,432.6C466.8,434 473,437 477.1,438.7C481.1,440.4 487.1,442.7 490.6,444.1C494,445.5 498,446.8 500.1,448.2C502.1,449.5 503,451.8 504.1,452.9C505.2,454 506.5,455.5 507.5,455.6C508.5,455.7 510,455 510.9,453.6C511.8,452.1 513,448.3 513.6,446.1C514.2,444 513.9,441.3 515,439.4C516,437.4 517.9,434.7 520.4,433.3C522.8,431.8 527.9,429.9 531.2,429.6C534.4,429.3 538.8,430.8 542,431.2C545.3,431.6 550.3,432.3 552.8,432.3C555.4,432.4 556.3,431.9 558.9,431.6C561.6,431.4 567.5,430.7 570.3,430.5C573.1,430.3 575.6,430.1 577.9,430.1C580.2,430.2 583.2,430.6 585.5,430.9C587.7,431.2 591.4,431.5 593,432C594.7,432.5 595.6,433.5 596.4,434.3C597.3,435.1 598.3,436.6 598.7,437.3C599.1,438.1 599.6,438.8 598.9,439.2C598.3,439.6 595.5,439.6 594.5,439.8C593.6,440 592.7,440.2 592.7,440.4C592.7,440.6 593.4,440.8 594.5,441.1C595.7,441.4 598.6,442.3 600.6,442.4C602.7,442.5 605.9,442.5 608.2,441.9C610.5,441.3 613.5,439.4 615.8,438.5C618,437.5 621.1,436.1 623.3,435.6C625.6,435 628.6,434.6 630.9,434.8C633.2,435 636.2,436.1 638.5,436.9C640.8,437.8 644.3,439.9 646.1,440.7C647.8,441.5 647.9,441.9 650,442.4C652.1,442.9 657.6,443.9 660,444.1C662.4,444.3 664.4,444 666.1,443.8C667.8,443.5 670.1,442.6 671.4,442.6C672.6,442.6 673.7,442.9 674.4,443.8C675.1,444.6 675.3,447.2 675.9,448.3C676.5,449.4 677.2,450.5 678.2,451.3C679.2,452.1 681.1,453 682.7,453.6C684.3,454.2 687.2,454.7 688.8,455.1C690.4,455.6 692.4,456 693.3,456.6C694.3,457.3 695.1,458.8 695.2,459.7C695.3,460.6 694.8,462 694.1,462.7C693.4,463.4 691.4,464.1 690.3,464.2C689.2,464.3 687.5,464 686.5,463.5C685.5,462.9 684.5,461.4 683.5,460.4C682.5,459.4 681.2,457.7 679.7,456.6C678.2,455.6 675.5,453.9 673.6,453.2C671.8,452.6 669.6,452.5 667.6,452.5C665.5,452.4 662.6,452.9 660,452.8C657.4,452.8 652.1,452.4 650,452.1C647.9,451.8 647.3,451.5 646.1,451C644.8,450.4 642.9,449.1 641.5,448.3C640.2,447.5 638.6,446.1 637,445.4C635.4,444.7 632.6,444.1 630.9,443.8C629.2,443.5 626.7,442.9 625.6,443.4C624.6,443.9 624.2,445.9 623.9,447.2C623.7,448.5 623.9,450.4 623.7,452.1C623.5,453.7 623.1,456.7 622.6,458.2C622.1,459.6 621.8,461.1 620.3,461.6C618.8,462 615,461 612.7,461.2C610.5,461.4 607.4,461.9 605.2,462.7C602.9,463.5 599.4,465.3 597.6,466.5C595.8,467.6 593.7,469.1 593,470.3C592.3,471.4 592.6,472.8 593,474.1C593.5,475.3 594.9,477 596.1,478.6C597.2,480.2 598.8,483.2 600.6,484.7C602.4,486.1 606.6,487.5 608.2,488.5C609.8,489.4 610.9,490.5 611.2,491.1C611.6,491.8 611.8,492.5 610.5,492.8C609.2,493.2 604.8,493.2 602.4,493.5C599.9,493.8 596.5,493.9 594.2,494.8C592,495.8 589.3,498.4 587.5,499.6C585.6,500.8 583.1,503.1 582.1,503C581.1,502.9 580.8,500.2 580.8,498.9C580.7,497.7 581.2,495.9 581.5,494.8C581.8,493.6 582.6,492.4 582.6,491.4C582.6,490.3 582.4,488.7 581.7,488C581,487.2 579.1,486.6 577.9,486.7C576.6,486.7 574.6,487.5 573.3,488.2C572.1,488.9 571.2,490.5 569.5,491.2C567.8,491.9 564.8,492.3 562,492.9C559.1,493.4 554,494.3 550.6,494.8C547.2,495.2 542.1,496 539.2,495.9C536.4,495.9 533.9,494.6 531.7,494.4C529.4,494.2 526.4,494.4 524.1,494.8C521.8,495.2 519.4,495.9 516.5,497C513.7,498.2 509,501.1 505.2,502.7C501.3,504.4 493.2,506.7 491.1,508C489.1,509.4 491,510.9 491.5,511.8C492,512.8 493.3,514.1 494.5,514.5C495.8,514.9 497.7,514.9 499.8,514.5C502,514.1 505.9,512.4 508.9,511.8C512,511.2 516.4,510.8 520.3,510.3C524.2,509.8 531.3,508.3 534.7,508.4C538.1,508.5 540.6,510.2 543,511.1C545.4,512 548.3,513.5 550.6,514.5C552.9,515.4 555.9,516.7 558.2,517.5C560.5,518.3 564.3,519.1 565.8,519.8C567.2,520.4 567.9,521 568,521.7C568.1,522.3 567.2,523.8 566.5,524.3C565.8,524.8 564.3,525.2 563.5,525.1C562.7,525 562.2,524.1 561.2,523.6C560.2,523 558,522 556.7,521.7C555.3,521.3 553.7,521.1 552.1,521.3C550.5,521.5 548,522.2 546.1,522.8C544.1,523.4 541.1,524.6 539.2,525.5C537.4,526.3 535.3,527.5 533.9,528.5C532.6,529.5 531.1,530.9 530.2,532.3C529.2,533.6 528.4,535.9 527.9,537.6C527.3,539.3 526.7,542 526.4,543.6C526,545.2 525.7,547 525.6,548.2C525.5,549.3 526.6,550.8 525.6,551.2C524.6,551.7 520.1,551.7 519.2,551.2C518.2,550.7 519.3,548.5 519.2,547.8C519.1,547.1 518.9,547.2 518.4,546.7C517.9,546.2 516.7,544.9 515.8,544.4C514.8,543.9 513.3,543.4 512,543.3C510.6,543.1 508,543 506.7,543.3C505.3,543.5 503.7,544.5 502.9,545.2C502.1,545.8 501.6,546.9 501.4,547.8C501.1,548.7 501.8,550.4 501.4,551.2C501,552 499.2,554.2 498.7,553C498.2,551.9 498.3,545.8 498,543.6C497.7,541.3 496.8,539.5 496.7,538.1C496.6,536.8 497.6,536 497.4,534.8C497.2,533.5 496.5,530.9 495.3,530C494.1,529.1 492,528.4 489.2,528.7C486.5,529 480.9,530.7 477.1,532.1C473.2,533.4 466.8,535.9 463.5,537.5C460.2,539 456.5,541.3 455,542.2C453.5,543.1 453.9,542.6 453.3,543.6C452.6,544.5 451.4,546.9 450.5,548.3C449.7,549.7 453.9,552.3 447.8,553C441.8,553.7 415.6,553.7 410,553C404.3,552.3 411.2,549.7 410,548.3C408.7,546.9 404.3,544.7 401.8,543.6C399.4,542.4 395.3,541.9 393.7,540.8C392.1,539.8 391.9,537.3 391,536.8C390.1,536.3 388.5,536.8 387.6,537.5C386.8,538.2 385.6,539.9 385.3,541.5C385,543.1 385.6,546.6 385.6,548.3C385.6,550 391.3,552.3 385.6,553C379.9,553.7 353.4,572.9 347.7,553C342,533.1 347.4,439.6 347.7,420.4Z"/><path d="M770.6,453.2C768.8,451.2 761.4,452.8 758.5,452.5C755.5,452.2 752.4,451.7 750.9,451.3C749.4,451 750.9,450.7 748.6,450.2C746.4,449.7 739.4,448.4 735.8,448.3C732.1,448.2 726.3,449.2 724.4,449.8C722.5,450.4 723.4,451.3 722.9,452.1C722.3,452.9 721.6,454.5 720.6,455.1C719.6,455.7 717.4,455.9 716.1,456.3C714.7,456.6 712.5,456.9 711.5,457.4C710.5,457.9 710.5,458.9 709.6,459.7C708.7,460.5 707,461.7 705.5,462.7C703.9,463.7 701.3,465.1 699.4,466.1C697.5,467.1 694.6,468.8 692.6,469.5C690.5,470.2 686.9,470.4 685.8,470.7C684.6,470.9 684.3,471 685,471.4C685.7,471.8 689.1,473.2 690.3,473.3C691.6,473.4 692,472.7 693.3,471.9C694.7,471.2 697.6,469.3 699.4,468.4C701.2,467.4 703.6,466.3 705.5,465.6C707.3,464.9 709.7,464 711.5,463.6C713.3,463.2 715.9,463.3 717.6,463.2C719.3,463 721.3,462.8 722.9,462.8C724.5,462.9 726.3,463.4 728.2,463.5C730.1,463.5 733.5,463.4 735.8,463.5C738,463.5 741.1,463.6 743.3,463.8C745.6,464.1 748.6,464.7 750.9,465C753.2,465.2 755.5,465.2 758.5,465.3C761.4,465.5 768.8,467.5 770.6,465.7C772.4,463.9 772.4,455.2 770.6,453.2Z"/><path d="M750.9,446.8C751.3,446.4 753,445.9 753,446.2C753,446.5 751.3,449.8 750.9,450.2C750.5,450.6 748.3,451 748.3,450.7C748.3,450.4 750.5,447.2 750.9,446.8Z"/><path d="M686.9,433.5C686.8,432.6 690.2,431.6 691.8,430.9C693.4,430.2 695.2,429.4 696.4,429.4C697.6,429.3 698.6,429.9 699,430.5C699.4,431.1 699.2,432.3 698.6,433.2C698.1,434 696.6,434.9 695.6,435.4C694.6,435.9 694,436.5 692.6,436.2C691.1,435.9 687,434.4 686.9,433.5Z"/><path d="M639.6,454.2C641.2,453.8 647.5,453.5 649.7,453.6C651.9,453.7 652.7,454.4 652.7,454.9C652.7,455.4 651.8,456.2 649.7,456.4C647.6,456.6 641.9,456.6 640.3,456.3C638.6,455.9 638,454.7 639.6,454.2Z"/><path d="M527.1,551.2C524.9,550.8 526.6,548.7 527.1,547.8C527.6,546.9 529.8,545.1 530.9,544.4C532,543.7 534.2,542.9 535.5,542.9C536.7,542.8 539,543.5 540,544C541,544.5 542.5,546.2 543,546.7C543.5,547.2 543.7,547.2 543.8,547.8C543.9,548.4 546,550.8 543.8,551.2C541.6,551.7 529.3,551.7 527.1,551.2Z"/><circle cx="754.3" cy="444.1" r="2.7" /><line x1="629.2" y1="460.5" x2="639.2" y2="459.9" stroke="#0000c0" stroke-width="1.3"/></g><g fill="#c80000" stroke="#3fc33a" stroke-width="1.0"><path d="M603.6,454C604.3,453.3 606.2,451.7 608.2,450.7C610.2,449.7 613.5,448.7 615.8,447.9C618,447.1 620.7,446.1 621.8,445.9C623,445.7 623.7,446 622.7,446.6C621.7,447.3 618.2,448.7 615.8,449.8C613.3,450.9 610.1,452.3 608.2,453.2C606.3,454.1 605.2,455 604.4,455.1C603.6,455.2 603,454.7 603.6,454Z"/><path d="M558.2,446.4C557.6,446.9 557.1,448.2 557,449.8C557,451.4 557,453.9 557.8,455.9C558.6,457.9 560.4,460.2 562,461.9C563.5,463.7 565.8,465.4 567.3,466.5C568.8,467.6 570.2,468.3 571.1,468.4C571.9,468.5 572.6,467.9 572.2,467.2C571.8,466.5 570.1,465.5 568.8,464.2C567.5,462.9 565.5,461.3 564.2,459.7C563,458 561.8,456 561.2,454.4C560.6,452.7 560.5,451 560.5,449.8C560.4,448.6 561.2,447.7 560.8,447.2C560.5,446.6 558.8,446 558.2,446.4Z"/><path d="M529.2,463C530.3,462.4 534.9,461.8 538,461.4C541,461 545.1,460.3 547.4,460.5C549.7,460.7 551.1,461.8 551.8,462.6C552.4,463.4 552.4,464.6 551.2,465.3C550,466.1 547.2,466.7 544.7,467C542.3,467.3 538.9,467.4 536.6,467.1C534.3,466.8 532.4,466 531.2,465.3C530,464.7 528,463.7 529.2,463Z"/><path d="M506.3,532.3C506.2,530.9 506.6,529.4 507,528.5C507.5,527.6 508.4,526.8 508.9,527C509.5,527.1 509.9,528.1 510.5,529.2C511,530.4 512,532.6 512,533.8C512,535 511.1,536 510.5,536.4C509.8,536.9 508.5,537.1 507.8,536.4C507.1,535.7 506.4,533.6 506.3,532.3Z"/><ellipse cx="566.1" cy="441.1" rx="2.9" ry="4.1" transform="rotate(18 566.1 441.1)"/></g><circle cx="428.6" cy="483.3" r="2.7" fill="#3fc33a"/><circle cx="430.5" cy="484.6" r="1.5" fill="#c80000"/><circle cx="507.5" cy="446.8" r="1.5" fill="#c8c020"/><circle cx="540" cy="469.8" r="1.9" fill="#58d030"/><circle cx="579" cy="467.6" r="1.5" fill="#58d030"/><circle cx="753.6" cy="456.6" r="1.5" fill="#b8d020"/><circle cx="478.4" cy="459.4" r="1.2" fill="#2060e0"/><g fill="#000018" fill-opacity="0.8"><path d="M378.4,415.1C377.5,416 377.8,419.5 376.9,421.3C376,423 373.3,425.7 371.9,427.4C370.4,429.1 368.2,431.5 366.8,433.2C365.4,434.8 362.4,438 361.7,439C361.1,440 361.5,439.8 362.1,440.3C362.7,440.7 364.8,441.6 366.1,442.2C367.4,442.9 369.6,443.9 371.1,444.8C372.7,445.6 375.7,447.3 376.9,448C378.2,448.7 379,449.4 379.8,449.8C380.6,450.2 381.9,450.8 382.7,450.9C383.5,451 384.8,450.6 385.6,450.2C386.4,449.7 387.8,448.6 388.5,447.6C389.2,446.7 390,444.5 390.3,443.3C390.6,442.1 390.8,440.3 390.8,439C390.8,437.6 390.6,435.2 390.3,433.9C390,432.6 389.4,430.7 388.9,429.6C388.3,428.4 387.3,426.9 386.7,426C386.1,425 385,423.7 384.5,423.1C384.1,422.4 383.7,422.4 383.4,421.3C383.2,420.1 383.4,416 382.7,415.1C382,414.2 379.2,414.2 378.4,415.1Z" transform="translate(-1.35,0.1)"/><path d="M363.9,456.9C366.2,455.4 375.6,454.6 378.8,454.2C382.1,453.9 385.3,453.9 386.9,454.5C388.6,455.1 389.9,457.1 390.3,458.3C390.7,459.5 390.5,461.8 389.7,463C388.8,464.3 386.7,465.9 384.2,467.1C381.8,468.3 374.7,470.9 372.1,471.8C369.4,472.8 366.7,473.8 365.3,473.9C363.9,474 362.7,473.8 362.3,472.5C361.9,471.3 362.4,467.3 362.6,465.1C362.8,462.9 361.6,458.5 363.9,456.9Z" transform="translate(-1.35,0.1)"/><path d="M401.8,444.1C403,443.1 406.2,441.9 408.6,441.4C411,440.9 416.4,440.3 418.7,440.7C421,441.1 423.7,442.9 424.8,444.1C425.9,445.2 426.8,447.2 426.6,448.8C426.4,450.5 424.7,453.8 423.5,455.6C422.3,457.4 420.2,460.4 418.1,461.7C416,462.9 410.7,464.6 408.6,464.4C406.5,464.2 404.4,461.8 403.2,460.3C401.9,458.9 400.2,456 399.8,454.2C399.4,452.5 400.2,449.6 400.5,448.2C400.8,446.7 400.7,445.1 401.8,444.1Z" transform="translate(-1.35,0.1)"/><path d="M383.6,480C386.5,477.6 399.8,471 403.2,469.8C406.5,468.7 405.7,470.4 407.2,471.8C408.8,473.3 412.9,477.7 414,480C415.2,482.3 415.6,486.1 415.4,488.1C415.2,490.1 415,493.2 412.7,494.2C410.4,495.1 403,495 399.1,494.8C395.3,494.6 387.9,494 385.6,492.8C383.3,491.7 382.9,488.5 382.6,486.7C382.3,484.9 380.7,482.3 383.6,480Z" transform="translate(-1.35,0.1)"/><path d="M368,483.3C368.9,482.9 370.3,483.6 371.4,484.7C372.4,485.7 374.6,488.8 375.4,490.8C376.3,492.8 377.5,497.1 377.5,498.9C377.5,500.7 377,502.7 375.4,503.6C373.9,504.6 368.2,506.3 366.7,505.4C365.1,504.5 364.8,500 364.6,497.5C364.4,495.1 364.8,490.1 365.3,488.1C365.8,486.1 367.1,483.8 368,483.3Z" transform="translate(-1.35,0.1)"/><path d="M386.4,511.9C385.2,510.3 387.3,508.4 388,507.6C388.8,506.7 390.1,506.2 391.7,505.9C393.3,505.6 396.7,506 399.1,505.4C401.5,504.8 405.9,502.2 408.6,501.6C411.3,501 416,500.4 418.1,500.9C420.2,501.4 422.6,503.4 423.5,505C424.3,506.6 424.5,510 424.2,512.4C423.8,514.8 422,520 420.8,521.9C419.5,523.8 417.3,525.5 415.4,526C413.4,526.4 409.9,526.3 407.2,525.3C404.6,524.2 399.4,520.4 396.4,518.5C393.5,516.6 387.6,513.4 386.4,511.9Z" transform="translate(-1.35,0.1)"/><path d="M368.7,519.9C369.8,519.1 372.1,520.8 373.4,521.9C374.8,523.1 377.7,526.7 378.2,528C378.6,529.3 378.3,530.6 376.8,531.1C375.3,531.6 369,532.2 367.3,531.6C365.7,531.1 365.1,529 365.3,527.3C365.5,525.6 367.5,520.6 368.7,519.9Z" transform="translate(-1.35,0.1)"/><path d="M393,540.2C393.6,539.7 395.6,538.1 397.8,537.5C400,536.8 405.3,536.2 408.6,535.4C411.9,534.7 417.5,532.6 420.8,532.1C424,531.5 428.9,531.1 431.6,531.4C434.3,531.7 437.4,532.9 439.7,534.1C442,535.2 446.2,538 447.8,539.5C449.5,541 450.8,543 451.2,544.9C451.6,546.8 456.7,551.9 450.8,553C445,554.2 415.7,553.7 410,553C404.2,552.4 411.1,549.6 410,548.3C408.8,546.9 404.1,544.6 401.8,543.6C399.5,542.5 395,541.6 393.7,541.1C392.5,540.6 392.5,540.7 393,540.2Z" transform="translate(-1.35,0.1)"/><path d="M372.7,553C370.9,552.4 372.4,549.6 372.7,548.3C373.1,546.9 374.6,544.5 375.4,543.6C376.3,542.6 377.8,541.6 378.8,541.5C379.9,541.4 381.9,541.9 382.9,542.9C383.8,543.8 385.2,546.9 385.6,548.3C386,549.7 387.4,552.4 385.6,553C383.8,553.7 374.6,553.7 372.7,553Z" transform="translate(-1.35,0.1)"/><path d="M399.8,417.7C395.1,418.2 399.1,420 399.8,421.4C400.5,422.7 403,425.6 404.5,427.2C406.1,428.8 408.3,432.2 410.6,432.6C412.9,433 417.2,430.9 420.8,429.9C424.3,428.8 433.9,426.4 435.7,425.1C437.4,423.9 433.3,422.4 433,421.4C432.6,420.3 437.7,418.2 433,417.7C428.3,417.2 404.5,417.2 399.8,417.7Z" transform="translate(-1.35,0.1)"/><path d="M444.9,444.8C445.2,443.1 445.9,440 447.3,438.7C448.7,437.4 452.8,435.6 454.7,435.6C456.7,435.6 459,437.2 460.8,438.7C462.6,440.2 465.8,443.9 467.6,446.1C469.4,448.3 473.1,452.5 473.7,454.2C474.3,456 473.5,457.6 471.7,458.3C469.8,459 463.9,459 460.8,459C457.8,458.9 452.2,458.4 450,458C447.8,457.6 446,457.4 445.3,456.3C444.5,455.2 444.6,451.8 444.6,450.2C444.5,448.6 444.5,446.4 444.9,444.8Z" transform="translate(-1.35,0.1)"/><path d="M438.4,471.8C436.8,472.8 432.8,475.8 431.6,477.2C430.4,478.7 429.8,480.6 429.7,482C429.6,483.3 431.4,485.3 431.1,486.7C430.7,488.2 427.9,490.9 427.5,492.1C427.2,493.4 426.6,494.4 428.3,495.5C430.1,496.6 437,499.5 439.7,500C442.4,500.5 445.1,499.4 447.3,498.9C449.5,498.4 453.3,497.1 455.4,496.2C457.5,495.3 460.5,494.1 462.2,492.8C463.8,491.5 466.1,488.5 466.9,486.7C467.7,484.9 468.1,482.1 467.6,480C467.1,477.8 465.1,473.5 463.5,471.8C462,470.2 458.7,468.8 456.8,468.5C454.8,468.1 452,468.8 450,469.1C448,469.5 444.1,470.4 442.4,470.8C440.8,471.1 439.9,470.9 438.4,471.8Z" transform="translate(-1.35,0.1)"/><path d="M439.2,514.5C439.4,513.2 440.3,510.8 441.9,509.7C443.4,508.7 446.9,507.8 450,507C453.1,506.2 459.7,504.6 463.5,504.3C467.4,504 474.5,504.2 477.1,505C479.7,505.8 481.2,507.9 481.8,509.7C482.4,511.5 481.9,515.6 481.1,517.8C480.4,520 478.9,524.1 476.4,525.3C473.9,526.4 467.3,526.4 463.5,526C459.8,525.5 453.3,523 450,521.9C446.7,520.8 442.1,519.6 440.5,518.5C439,517.5 439,515.7 439.2,514.5Z" transform="translate(-1.35,0.1)"/><path d="M491.9,464.4C492.4,463 493.9,461.2 496,460.3C498.1,459.5 503.8,458.2 506.8,458.3C509.9,458.4 514.4,460 517.7,461C520.9,462 527.4,464 529.8,465.1C532.2,466.1 534.4,467.5 534.6,468.5C534.8,469.4 533.6,471.3 531.2,471.8C528.8,472.4 521.5,472.1 517.7,472.1C513.8,472.1 507.7,471.8 504.1,471.6C500.6,471.3 494.4,471.5 492.6,470.5C490.9,469.5 491.5,465.8 491.9,464.4Z" transform="translate(-1.35,0.1)"/><path d="M479.1,496.2C479.2,494.3 481.1,488.3 483.2,486.7C485.2,485.1 489.9,484.9 493.3,484.7C496.7,484.5 503.8,484.9 506.8,485.4C509.9,485.8 513.5,486.9 515,488.1C516.4,489.2 517.2,491.6 517,493.5C516.8,495.4 515,499.5 513.6,501.6C512.2,503.7 508.9,507.1 506.8,508.4C504.7,509.6 501,510.6 498.7,510.4C496.4,510.2 492.9,508.5 490.6,507C488.3,505.6 484.1,501.8 482.5,500.3C480.8,498.7 479,498.1 479.1,496.2Z" transform="translate(-1.35,0.1)"/><path d="M519,442.7C519.1,440.5 520.4,439.1 521.7,438C523.1,436.9 526.4,435.5 528.5,435.3C530.6,435.1 534.3,435.7 536.6,436.7C538.9,437.6 542,440.3 544.7,442.1C547.4,443.8 554.2,447.2 555.5,448.8C556.9,450.5 555.7,452.5 554.2,453.6C552.7,454.6 548,455.9 544.7,456.3C541.5,456.7 534.5,456.7 531.2,456.3C527.8,455.9 522.8,455.5 521,453.6C519.3,451.6 518.9,444.9 519,442.7Z" transform="translate(-1.35,0.1)"/><path d="M463.5,553C458.6,551.1 462.3,542 464.2,539.5C466.1,537 473.3,536.2 477.1,535.4C480.8,534.7 487.9,533.9 490.6,534.1C493.3,534.3 495,535.4 496,536.8C497.1,538.1 497.7,541.3 498,543.6C498.4,545.9 503.6,551.7 498.7,553C493.8,554.4 468.4,554.9 463.5,553Z" transform="translate(-1.35,0.1)"/><path d="M458.1,417.7C455.4,419 456.9,424.9 457.8,426.5C458.8,428.1 462.5,428.7 464.9,429.2C467.2,429.7 472.4,430.5 474.4,430.2C476.3,429.8 478,428.3 478.4,426.5C478.8,424.7 479.9,419 477.1,417.7C474.2,416.5 460.8,416.5 458.1,417.7Z" transform="translate(-1.35,0.1)"/><path d="M494.7,417.7C490.2,419.2 492.3,426.4 492.6,428.5C492.9,430.6 495.8,431.2 496.7,432.6C497.5,434 497.7,437.6 498.7,438.7C499.8,439.8 502.4,440.5 504.1,440.4C505.9,440.3 509,439.1 510.9,438C512.8,436.9 515.6,433.9 517.7,432.6C519.8,431.2 524.1,429.5 525.8,428.5C527.5,427.6 530.1,427.4 529.8,425.8C529.6,424.3 528.7,418.9 523.7,417.7C518.8,416.6 499.1,416.2 494.7,417.7Z" transform="translate(-1.35,0.1)"/><path d="M508.9,513.3C510,511.8 513.1,509.9 515,508.8C516.9,507.7 520.5,506.2 522.6,505.4C524.6,504.6 528,503.2 529.4,503.1C530.8,503.1 531.7,504.2 532.4,505C533.2,505.8 534.3,507.7 534.7,508.8C535.1,509.9 535.8,511.5 535.5,512.6C535.1,513.6 533.7,515.4 532.4,516.4C531.1,517.3 527.7,518.5 526.4,519.4C525.1,520.3 523.9,521.4 523.3,522.4C522.8,523.5 522.6,525.5 522.6,527C522.6,528.5 523.7,531.8 523.3,533C523,534.3 521.5,535.3 520.3,535.7C519.1,536.1 516.2,536.4 515,536.1C513.8,535.7 512.7,534.3 512,533C511.2,531.7 510.3,528.9 509.7,527C509.1,525 507.9,521.3 507.8,519.4C507.7,517.5 507.9,514.8 508.9,513.3Z" transform="translate(-1.35,0.1)"/><path d="M608.2,418C604.6,419 606.4,423.2 605.2,424.8C603.9,426.4 599.7,428.2 599.1,429.4C598.4,430.5 599.9,432.1 600.6,433.2C601.4,434.2 602.9,436.4 604.4,436.9C605.9,437.5 609.8,437.5 611.2,436.9C612.6,436.4 613.6,434.1 614.2,433.2C614.9,432.2 614.7,430.9 615.8,430.1C616.8,429.4 620,428.5 621.8,427.8C623.6,427.2 627.5,427 628.6,425.6C629.8,424.2 633,419.1 630.2,418C627.3,416.9 611.7,417 608.2,418Z" transform="translate(1.35,0.1)"/><path d="M626.4,451.3C626.6,449.9 627.7,449.3 628.6,449.1C629.6,448.8 631.9,449.2 633.2,449.8C634.5,450.5 636.8,452.5 637.7,453.6C638.7,454.7 639.9,456.4 640,457.4C640.1,458.4 639.8,459.9 638.5,460.4C637.2,461 632.5,461.4 630.9,461.2C629.3,461 627.8,460.3 627.1,458.9C626.5,457.5 626.1,452.7 626.4,451.3Z" transform="translate(1.35,0.1)"/><path d="M642.3,463C643.4,461.7 647.2,460.6 649.7,459.9C652.2,459.3 657.4,458.8 660,458.6C662.6,458.3 666,458 668.1,458.3C670.2,458.6 673.5,460 674.9,461C676.2,462 677.8,463.9 677.6,465.1C677.4,466.2 675.1,468 673.5,469.1C672,470.3 668.4,471.8 666.8,473.2C665.1,474.5 663.5,477.5 661.9,478.6C660.3,479.7 657.1,480.5 655.1,480.6C653.2,480.8 650.1,480.4 648.4,479.7C646.6,479 643.9,477.4 643,475.9C642,474.4 641.7,470.9 641.6,469.1C641.5,467.3 641.1,464.3 642.3,463Z" transform="translate(1.35,0.1)"/><path d="M625.4,492.1C626.2,491 628.9,493.1 630.8,493.5C632.7,493.9 637.4,493.9 638.9,494.8C640.4,495.8 641.8,498.3 641.6,500.3C641.4,502.2 639.1,506.4 637.5,508.4C636,510.4 632.4,514.1 630.8,514.5C629.1,514.8 626.9,512.9 626,511.1C625.2,509.3 624.8,504.3 624.7,501.6C624.6,498.9 624.5,493.3 625.4,492.1Z" transform="translate(1.35,0.1)"/><path d="M649.7,491.5C650.7,489.3 654.4,486.8 655.8,486C657.3,485.3 658.3,485.8 660,486.4C661.8,487.1 665.3,490.3 668.1,490.8C671,491.3 677,490.1 680.3,490.1C683.6,490.1 688.6,489.9 691.1,490.8C693.6,491.6 696.8,494.5 697.9,496.2C699,497.9 699.1,501.2 698.6,503C698,504.7 696.4,507.3 693.8,508.4C691.2,509.4 683.9,510.2 680.3,510.4C676.7,510.6 671,510 668.1,509.7C665.3,509.5 662.2,509 660,508.6C657.8,508.3 654,508 652.4,507C650.9,506 649.4,503.8 649,501.6C648.7,499.4 648.8,493.7 649.7,491.5Z" transform="translate(1.35,0.1)"/><path d="M651.8,530.7C651.5,528.5 653.9,524 655.1,521.9C656.4,519.9 658.7,517.1 660.5,516.2C662.4,515.3 666.3,515.5 668.1,515.4C670,515.3 671.4,515.3 673.5,515.8C675.6,516.3 681,517.8 683,519.2C685,520.6 686.9,524 687.7,526C688.6,527.9 689.6,531.4 689.1,532.7C688.6,534.1 687,535 684.4,535.4C681.8,535.9 674,535.2 670.8,535.7C667.6,536.2 663.8,539 661.9,539.2C660,539.5 658.6,538.7 657.2,537.5C655.7,536.3 652,532.9 651.8,530.7Z" transform="translate(1.35,0.1)"/><path d="M595.6,530C596.6,529.3 599.1,527.8 601,528C602.9,528.2 606.4,530.1 609.1,531.4C611.8,532.6 617.2,535.5 620,536.8C622.7,538 627.2,538.5 628.7,540.2C630.3,541.8 630.5,546.5 630.8,548.3C631.1,550.1 635.3,552.4 630.8,553C626.3,553.7 603.8,554.9 599,553C594.2,551.1 597.6,542.4 596.9,539.5C596.3,536.6 594.4,534.1 594.2,532.7C594.1,531.4 594.6,530.7 595.6,530Z" transform="translate(1.35,0.1)"/><path d="M628.7,523.3C629.8,522.5 634.2,521.9 636.2,521.9C638.2,521.9 641.9,519.5 643,523.3C644,527 643.5,544.1 643.6,548.3C643.7,552.5 644.3,552.4 643.6,553C643,553.7 639.6,553.7 638.9,553C638.2,552.4 639.7,550.6 638.9,548.3C638.1,546 634.9,539.8 633.5,536.8C632,533.8 629.4,529.2 628.7,527.3C628.1,525.4 627.7,524 628.7,523.3Z" transform="translate(1.35,0.1)"/><path d="M640.8,418C634.7,419.9 641,429.2 641.5,431.6C642.1,434.1 643.3,434.5 644.5,435.4C645.7,436.4 648.5,438 650,438.3C651.5,438.6 654,438 655.5,437.8C656.9,437.7 658.7,437.5 660,436.9C661.3,436.4 663.2,434.7 664.5,433.9C665.9,433.2 667.9,432.3 669.8,431.6C671.8,431 676.4,430.4 678.2,429.4C680,428.3 681.9,425.7 682.7,424.1C683.6,422.5 690.2,418.9 684.2,418C678.3,417.1 646.8,416.1 640.8,418Z" transform="translate(1.35,0.1)"/><path d="M694.1,418C692.2,419 694.3,423.5 694.8,424.8C695.4,426.2 696.8,427.3 697.9,427.5C699,427.7 701.1,427 702.4,426.3C703.7,425.6 706.1,423.7 707,422.5C707.8,421.4 710.3,418.6 708.5,418C706.7,417.4 696,417 694.1,418Z" transform="translate(1.35,0.1)"/><path d="M722.9,418C718.6,419.3 724.4,424.9 725.2,427.1C725.9,429.2 727.2,431.9 728.2,433.2C729.1,434.4 729.6,435.8 732,436.2C734.3,436.6 742.5,436.6 744.8,436.2C747.2,435.8 747.6,434.4 748.6,433.2C749.7,431.9 751.5,429.2 752.4,427.1C753.4,424.9 759.6,419.3 755.5,418C751.3,416.7 727.2,416.7 722.9,418Z" transform="translate(1.35,0.1)"/><path d="M677.4,439.2C678,438.1 679.3,437.6 680.5,436.9C681.6,436.2 684.4,434.4 685.8,434.3C687.2,434.2 688.8,435.6 690.3,436.2C691.8,436.7 694.6,438.2 696.4,438.1C698.1,437.9 700.7,435.8 702.4,435C704.1,434.3 707,433.1 708.5,432.8C710,432.5 711.8,432.4 713,432.8C714.2,433.1 716.1,434.4 716.8,435.4C717.5,436.4 718,438.5 718,440C718,441.5 717.3,444.3 716.8,446C716.3,447.7 715.2,450.8 714.5,452.1C713.9,453.4 713.6,454.7 712.3,455.1C711,455.5 707.7,455 705.5,454.7C703.2,454.5 699,453.4 696.4,453.2C693.7,453.1 688.8,453.7 686.5,453.6C684.3,453.5 681.8,453 680.5,452.5C679.1,451.9 677.6,450.9 677,449.8C676.5,448.7 676.2,446 676.3,444.5C676.3,443 676.8,440.3 677.4,439.2Z" transform="translate(1.35,0.1)"/><path d="M724.4,449.8C724.5,448.9 725.4,447.5 725.9,446.8C726.4,446.1 726.8,445.1 728.2,444.9C729.6,444.7 733.6,445.5 735.8,445.7C737.9,445.8 741.7,445.8 743.3,446C744.9,446.3 746.4,447 747.1,447.5C747.8,448.1 748.5,449.1 748.3,449.8C748,450.6 746.8,452 745.6,452.8C744.4,453.7 741.5,455.2 739.5,455.9C737.6,456.5 733.7,457.3 732,457.4C730.3,457.5 728.4,457.2 727.4,456.6C726.5,456.1 725.6,454.6 725.2,453.6C724.7,452.6 724.3,450.8 724.4,449.8Z" transform="translate(1.35,0.1)"/><path d="M683.5,471C682.8,471.3 684.8,474.6 685.8,475.6C686.7,476.5 688.8,477.4 690.3,477.8C691.8,478.3 694.8,478.1 696.4,478.6C698,479.1 700.2,480.6 701.7,481.6C703.2,482.7 705.7,484.9 707,486.2C708.3,487.5 709.9,490 710.8,490.7C711.6,491.4 712.1,491.8 713,491.1C714,490.5 716.3,488.2 717.6,486.2C718.9,484.2 721,479.2 722.1,477.1C723.2,474.9 724.7,472.4 725.2,471C725.6,469.6 725.5,468.1 725.2,467.2C724.8,466.4 724.2,465.4 722.9,465C721.6,464.5 718.1,464.1 716.1,464.2C714,464.3 710.6,465.2 708.5,465.7C706.3,466.3 703.1,467 700.9,468C698.8,469 694.8,471.7 693.3,472.5C691.8,473.4 691.7,473.9 690.3,473.7C688.9,473.5 684.1,470.8 683.5,471Z" transform="translate(1.35,0.1)"/><path d="M732.7,469.5C733.3,468.5 734.8,470.3 735.8,470.3C736.7,470.3 738.3,469.4 739.5,469.5C740.8,469.6 743.7,470.2 744.8,471C746,471.9 747.6,474.2 747.9,475.6C748.2,477 747.8,479.4 747.1,480.9C746.5,482.4 744.6,484.9 743.3,486.2C742,487.5 739.3,489.3 738,490C736.7,490.6 735.1,491.3 734.2,490.7C733.4,490.2 732.3,488.1 732,486.2C731.6,484.2 731.5,479.5 731.6,477.1C731.7,474.7 732.1,470.5 732.7,469.5Z" transform="translate(1.35,0.1)"/><path d="M699.9,515.8C700.6,513.9 703.6,510.4 706,508.4C708.4,506.4 713.8,503.1 716.8,501.6C719.9,500.1 725,497.8 727.7,497.5C730.3,497.3 733.7,498.2 735.8,499.6C737.9,500.9 741.4,505.2 742.5,507C743.7,508.8 744.5,511.2 743.9,512.4C743.3,513.7 740.8,515 738.5,515.8C736.2,516.6 730.7,517.1 727.7,517.8C724.6,518.6 719.9,520.4 716.8,521.2C713.8,522.1 708.2,523.8 706,523.9C703.8,524 702.1,523.1 701.3,521.9C700.4,520.8 699.2,517.7 699.9,515.8Z" transform="translate(1.35,0.1)"/><path d="M694.5,538.1C694.4,536.6 697.4,533.8 699.2,532.7C701.1,531.7 705.1,530.7 707.4,530.7C709.7,530.7 713.6,531.9 715.5,532.7C717.4,533.6 720.3,535.4 720.9,536.8C721.5,538.1 720.3,540.6 719.5,542.2C718.8,543.8 716.1,546.8 715.5,548.3C714.9,549.8 717.6,552.4 715.5,553C713.4,553.7 702.7,553.7 700.6,553C698.5,552.4 700.7,549.6 700.6,548.3C700.5,546.9 700.8,545 699.9,543.6C699.1,542.1 694.6,539.7 694.5,538.1Z" transform="translate(1.35,0.1)"/><path d="M731,530C732,528.5 735.3,526.1 737.1,526C739,525.9 742.2,528 743.9,529.3C745.6,530.7 748.4,533.9 749.3,535.4C750.3,537 751,539.1 750.7,540.2C750.3,541.2 748.5,542.4 746.6,542.9C744.7,543.4 739.2,543.4 737.1,543.6C735,543.7 732.7,545.2 731.7,544.2C730.8,543.3 730.5,538.8 730.4,536.8C730.3,534.8 730.1,531.6 731,530Z" transform="translate(1.35,0.1)"/></g><g fill="#fff" stroke="#fff" stroke-width="0.7"><path d="M378.4,415.1C377.5,416 377.8,419.5 376.9,421.3C376,423 373.3,425.7 371.9,427.4C370.4,429.1 368.2,431.5 366.8,433.2C365.4,434.8 362.4,438 361.7,439C361.1,440 361.5,439.8 362.1,440.3C362.7,440.7 364.8,441.6 366.1,442.2C367.4,442.9 369.6,443.9 371.1,444.8C372.7,445.6 375.7,447.3 376.9,448C378.2,448.7 379,449.4 379.8,449.8C380.6,450.2 381.9,450.8 382.7,450.9C383.5,451 384.8,450.6 385.6,450.2C386.4,449.7 387.8,448.6 388.5,447.6C389.2,446.7 390,444.5 390.3,443.3C390.6,442.1 390.8,440.3 390.8,439C390.8,437.6 390.6,435.2 390.3,433.9C390,432.6 389.4,430.7 388.9,429.6C388.3,428.4 387.3,426.9 386.7,426C386.1,425 385,423.7 384.5,423.1C384.1,422.4 383.7,422.4 383.4,421.3C383.2,420.1 383.4,416 382.7,415.1C382,414.2 379.2,414.2 378.4,415.1Z"/><path d="M363.9,456.9C366.2,455.4 375.6,454.6 378.8,454.2C382.1,453.9 385.3,453.9 386.9,454.5C388.6,455.1 389.9,457.1 390.3,458.3C390.7,459.5 390.5,461.8 389.7,463C388.8,464.3 386.7,465.9 384.2,467.1C381.8,468.3 374.7,470.9 372.1,471.8C369.4,472.8 366.7,473.8 365.3,473.9C363.9,474 362.7,473.8 362.3,472.5C361.9,471.3 362.4,467.3 362.6,465.1C362.8,462.9 361.6,458.5 363.9,456.9Z"/><path d="M401.8,444.1C403,443.1 406.2,441.9 408.6,441.4C411,440.9 416.4,440.3 418.7,440.7C421,441.1 423.7,442.9 424.8,444.1C425.9,445.2 426.8,447.2 426.6,448.8C426.4,450.5 424.7,453.8 423.5,455.6C422.3,457.4 420.2,460.4 418.1,461.7C416,462.9 410.7,464.6 408.6,464.4C406.5,464.2 404.4,461.8 403.2,460.3C401.9,458.9 400.2,456 399.8,454.2C399.4,452.5 400.2,449.6 400.5,448.2C400.8,446.7 400.7,445.1 401.8,444.1Z"/><path d="M383.6,480C386.5,477.6 399.8,471 403.2,469.8C406.5,468.7 405.7,470.4 407.2,471.8C408.8,473.3 412.9,477.7 414,480C415.2,482.3 415.6,486.1 415.4,488.1C415.2,490.1 415,493.2 412.7,494.2C410.4,495.1 403,495 399.1,494.8C395.3,494.6 387.9,494 385.6,492.8C383.3,491.7 382.9,488.5 382.6,486.7C382.3,484.9 380.7,482.3 383.6,480Z"/><path d="M368,483.3C368.9,482.9 370.3,483.6 371.4,484.7C372.4,485.7 374.6,488.8 375.4,490.8C376.3,492.8 377.5,497.1 377.5,498.9C377.5,500.7 377,502.7 375.4,503.6C373.9,504.6 368.2,506.3 366.7,505.4C365.1,504.5 364.8,500 364.6,497.5C364.4,495.1 364.8,490.1 365.3,488.1C365.8,486.1 367.1,483.8 368,483.3Z"/><path d="M386.4,511.9C385.2,510.3 387.3,508.4 388,507.6C388.8,506.7 390.1,506.2 391.7,505.9C393.3,505.6 396.7,506 399.1,505.4C401.5,504.8 405.9,502.2 408.6,501.6C411.3,501 416,500.4 418.1,500.9C420.2,501.4 422.6,503.4 423.5,505C424.3,506.6 424.5,510 424.2,512.4C423.8,514.8 422,520 420.8,521.9C419.5,523.8 417.3,525.5 415.4,526C413.4,526.4 409.9,526.3 407.2,525.3C404.6,524.2 399.4,520.4 396.4,518.5C393.5,516.6 387.6,513.4 386.4,511.9Z"/><path d="M368.7,519.9C369.8,519.1 372.1,520.8 373.4,521.9C374.8,523.1 377.7,526.7 378.2,528C378.6,529.3 378.3,530.6 376.8,531.1C375.3,531.6 369,532.2 367.3,531.6C365.7,531.1 365.1,529 365.3,527.3C365.5,525.6 367.5,520.6 368.7,519.9Z"/><path d="M393,540.2C393.6,539.7 395.6,538.1 397.8,537.5C400,536.8 405.3,536.2 408.6,535.4C411.9,534.7 417.5,532.6 420.8,532.1C424,531.5 428.9,531.1 431.6,531.4C434.3,531.7 437.4,532.9 439.7,534.1C442,535.2 446.2,538 447.8,539.5C449.5,541 450.8,543 451.2,544.9C451.6,546.8 456.7,551.9 450.8,553C445,554.2 415.7,553.7 410,553C404.2,552.4 411.1,549.6 410,548.3C408.8,546.9 404.1,544.6 401.8,543.6C399.5,542.5 395,541.6 393.7,541.1C392.5,540.6 392.5,540.7 393,540.2Z"/><path d="M372.7,553C370.9,552.4 372.4,549.6 372.7,548.3C373.1,546.9 374.6,544.5 375.4,543.6C376.3,542.6 377.8,541.6 378.8,541.5C379.9,541.4 381.9,541.9 382.9,542.9C383.8,543.8 385.2,546.9 385.6,548.3C386,549.7 387.4,552.4 385.6,553C383.8,553.7 374.6,553.7 372.7,553Z"/><path d="M399.8,417.7C395.1,418.2 399.1,420 399.8,421.4C400.5,422.7 403,425.6 404.5,427.2C406.1,428.8 408.3,432.2 410.6,432.6C412.9,433 417.2,430.9 420.8,429.9C424.3,428.8 433.9,426.4 435.7,425.1C437.4,423.9 433.3,422.4 433,421.4C432.6,420.3 437.7,418.2 433,417.7C428.3,417.2 404.5,417.2 399.8,417.7Z"/><path d="M444.9,444.8C445.2,443.1 445.9,440 447.3,438.7C448.7,437.4 452.8,435.6 454.7,435.6C456.7,435.6 459,437.2 460.8,438.7C462.6,440.2 465.8,443.9 467.6,446.1C469.4,448.3 473.1,452.5 473.7,454.2C474.3,456 473.5,457.6 471.7,458.3C469.8,459 463.9,459 460.8,459C457.8,458.9 452.2,458.4 450,458C447.8,457.6 446,457.4 445.3,456.3C444.5,455.2 444.6,451.8 444.6,450.2C444.5,448.6 444.5,446.4 444.9,444.8Z"/><path d="M438.4,471.8C436.8,472.8 432.8,475.8 431.6,477.2C430.4,478.7 429.8,480.6 429.7,482C429.6,483.3 431.4,485.3 431.1,486.7C430.7,488.2 427.9,490.9 427.5,492.1C427.2,493.4 426.6,494.4 428.3,495.5C430.1,496.6 437,499.5 439.7,500C442.4,500.5 445.1,499.4 447.3,498.9C449.5,498.4 453.3,497.1 455.4,496.2C457.5,495.3 460.5,494.1 462.2,492.8C463.8,491.5 466.1,488.5 466.9,486.7C467.7,484.9 468.1,482.1 467.6,480C467.1,477.8 465.1,473.5 463.5,471.8C462,470.2 458.7,468.8 456.8,468.5C454.8,468.1 452,468.8 450,469.1C448,469.5 444.1,470.4 442.4,470.8C440.8,471.1 439.9,470.9 438.4,471.8Z"/><path d="M439.2,514.5C439.4,513.2 440.3,510.8 441.9,509.7C443.4,508.7 446.9,507.8 450,507C453.1,506.2 459.7,504.6 463.5,504.3C467.4,504 474.5,504.2 477.1,505C479.7,505.8 481.2,507.9 481.8,509.7C482.4,511.5 481.9,515.6 481.1,517.8C480.4,520 478.9,524.1 476.4,525.3C473.9,526.4 467.3,526.4 463.5,526C459.8,525.5 453.3,523 450,521.9C446.7,520.8 442.1,519.6 440.5,518.5C439,517.5 439,515.7 439.2,514.5Z"/><path d="M491.9,464.4C492.4,463 493.9,461.2 496,460.3C498.1,459.5 503.8,458.2 506.8,458.3C509.9,458.4 514.4,460 517.7,461C520.9,462 527.4,464 529.8,465.1C532.2,466.1 534.4,467.5 534.6,468.5C534.8,469.4 533.6,471.3 531.2,471.8C528.8,472.4 521.5,472.1 517.7,472.1C513.8,472.1 507.7,471.8 504.1,471.6C500.6,471.3 494.4,471.5 492.6,470.5C490.9,469.5 491.5,465.8 491.9,464.4Z"/><path d="M479.1,496.2C479.2,494.3 481.1,488.3 483.2,486.7C485.2,485.1 489.9,484.9 493.3,484.7C496.7,484.5 503.8,484.9 506.8,485.4C509.9,485.8 513.5,486.9 515,488.1C516.4,489.2 517.2,491.6 517,493.5C516.8,495.4 515,499.5 513.6,501.6C512.2,503.7 508.9,507.1 506.8,508.4C504.7,509.6 501,510.6 498.7,510.4C496.4,510.2 492.9,508.5 490.6,507C488.3,505.6 484.1,501.8 482.5,500.3C480.8,498.7 479,498.1 479.1,496.2Z"/><path d="M519,442.7C519.1,440.5 520.4,439.1 521.7,438C523.1,436.9 526.4,435.5 528.5,435.3C530.6,435.1 534.3,435.7 536.6,436.7C538.9,437.6 542,440.3 544.7,442.1C547.4,443.8 554.2,447.2 555.5,448.8C556.9,450.5 555.7,452.5 554.2,453.6C552.7,454.6 548,455.9 544.7,456.3C541.5,456.7 534.5,456.7 531.2,456.3C527.8,455.9 522.8,455.5 521,453.6C519.3,451.6 518.9,444.9 519,442.7Z"/><path d="M517.7,485.1C518.4,484.6 522.9,483.4 525.8,482.7C528.7,481.9 534.5,480.7 538,480C541.4,479.2 547.6,478.6 550.1,477.5C552.6,476.5 554.1,473.5 555.5,472.5C557,471.5 558.4,469.9 560.3,470.2C562.2,470.5 566.7,473.4 569.1,474.5C571.5,475.7 577.3,477.3 577.3,478.6C577.3,479.9 571.5,482.4 569.1,483.7C566.7,485 563.7,487.1 560.3,487.8C556.8,488.5 548.8,488.9 544.7,488.9C540.6,488.8 534.6,488 531.2,487.5C527.7,487.1 522.3,486.3 520.4,485.9C518.4,485.6 516.9,485.6 517.7,485.1Z"/><path d="M463.5,553C458.6,551.1 462.3,542 464.2,539.5C466.1,537 473.3,536.2 477.1,535.4C480.8,534.7 487.9,533.9 490.6,534.1C493.3,534.3 495,535.4 496,536.8C497.1,538.1 497.7,541.3 498,543.6C498.4,545.9 503.6,551.7 498.7,553C493.8,554.4 468.4,554.9 463.5,553Z"/><path d="M458.1,417.7C455.4,419 456.9,424.9 457.8,426.5C458.8,428.1 462.5,428.7 464.9,429.2C467.2,429.7 472.4,430.5 474.4,430.2C476.3,429.8 478,428.3 478.4,426.5C478.8,424.7 479.9,419 477.1,417.7C474.2,416.5 460.8,416.5 458.1,417.7Z"/><path d="M494.7,417.7C490.2,419.2 492.3,426.4 492.6,428.5C492.9,430.6 495.8,431.2 496.7,432.6C497.5,434 497.7,437.6 498.7,438.7C499.8,439.8 502.4,440.5 504.1,440.4C505.9,440.3 509,439.1 510.9,438C512.8,436.9 515.6,433.9 517.7,432.6C519.8,431.2 524.1,429.5 525.8,428.5C527.5,427.6 530.1,427.4 529.8,425.8C529.6,424.3 528.7,418.9 523.7,417.7C518.8,416.6 499.1,416.2 494.7,417.7Z"/><path d="M508.9,513.3C510,511.8 513.1,509.9 515,508.8C516.9,507.7 520.5,506.2 522.6,505.4C524.6,504.6 528,503.2 529.4,503.1C530.8,503.1 531.7,504.2 532.4,505C533.2,505.8 534.3,507.7 534.7,508.8C535.1,509.9 535.8,511.5 535.5,512.6C535.1,513.6 533.7,515.4 532.4,516.4C531.1,517.3 527.7,518.5 526.4,519.4C525.1,520.3 523.9,521.4 523.3,522.4C522.8,523.5 522.6,525.5 522.6,527C522.6,528.5 523.7,531.8 523.3,533C523,534.3 521.5,535.3 520.3,535.7C519.1,536.1 516.2,536.4 515,536.1C513.8,535.7 512.7,534.3 512,533C511.2,531.7 510.3,528.9 509.7,527C509.1,525 507.9,521.3 507.8,519.4C507.7,517.5 507.9,514.8 508.9,513.3Z"/><path d="M530.9,497.8C531.1,497.5 534.7,499.5 537,499.7C539.2,499.9 543.8,499.4 546.8,498.9C549.8,498.5 554.4,496.8 558.2,496.3C561.9,495.8 570.4,495.3 573.3,495.5C576.2,495.7 577.6,496.8 578.6,497.8C579.7,498.8 580.9,501.2 580.9,502.7C580.9,504.3 579.7,507.2 578.6,508.8C577.6,510.4 575.2,512.8 573.3,514.1C571.5,515.4 567.9,517.7 565.8,517.9C563.6,518.1 560.3,516.6 558.2,515.6C556,514.6 552.8,512.3 550.6,511.1C548.5,509.8 545.2,507.8 543,506.5C540.9,505.2 537.2,503.2 535.5,502C533.7,500.7 530.7,498.1 530.9,497.8Z"/><path d="M552.9,521.8C553.8,521 555.4,521.9 556.7,522.4C558,522.9 560.6,524.8 562,525.5C563.4,526.2 564.9,527 566.5,527.3C568.1,527.6 571.3,527.7 573.3,527.6C575.4,527.5 578.9,526.9 580.9,526.8C582.9,526.8 586.4,526.2 587.3,527.1C588.3,528 587.9,531.1 587.7,533C587.5,534.9 586.6,538.5 585.8,540.6C585.1,542.7 583,546.1 582.6,547.8C582.1,549.5 586.9,552 582.6,552.7C578.3,553.4 556.6,553.4 552.3,552.7C548,552 552.6,549.5 552.3,547.8C551.9,546.1 550.5,542.5 549.8,540.6C549.2,538.7 547.6,536.3 547.6,534.5C547.6,532.8 549.1,530.3 549.8,528.5C550.6,526.7 551.9,522.7 552.9,521.8Z"/><path d="M537.7,418C530.7,419.1 539,424.5 539.3,425.8C539.6,427.1 538.8,426.6 540,427.1C541.2,427.6 545.6,429.6 547.6,429.4C549.5,429.1 552,426.3 553.6,425.6C555.2,424.8 556.6,424.1 558.9,424.1C561.3,424 567.4,425 570.3,425.2C573.2,425.4 577.2,425.7 579.4,425.6C581.5,425.4 584.1,425.1 585.5,424.1C586.8,423 596,418.9 589.2,418C582.5,417.1 544.8,416.9 537.7,418Z"/><path d="M608.2,418C604.6,419 606.4,423.2 605.2,424.8C603.9,426.4 599.7,428.2 599.1,429.4C598.4,430.5 599.9,432.1 600.6,433.2C601.4,434.2 602.9,436.4 604.4,436.9C605.9,437.5 609.8,437.5 611.2,436.9C612.6,436.4 613.6,434.1 614.2,433.2C614.9,432.2 614.7,430.9 615.8,430.1C616.8,429.4 620,428.5 621.8,427.8C623.6,427.2 627.5,427 628.6,425.6C629.8,424.2 633,419.1 630.2,418C627.3,416.9 611.7,417 608.2,418Z"/><path d="M562,448.3C563.3,447.3 568.3,447.3 570.3,446.8C572.3,446.3 575.4,445.6 576.4,444.5C577.3,443.4 577.1,440.4 577.1,439.2C577.1,438 576,436.8 576.4,436.2C576.7,435.5 578.3,434.6 579.4,434.7C580.5,434.8 582.5,436 583.9,436.9C585.3,437.9 587.7,440.3 589.2,441.5C590.7,442.7 592.9,444.4 594.5,445.3C596.2,446.2 599.2,447.2 600.6,447.9C602,448.7 604.2,449.6 604.4,450.6C604.6,451.6 603.3,453.7 602.1,455.1C600.9,456.5 597.8,459.1 596.1,460.4C594.3,461.7 591.7,463.5 590,464.2C588.3,465 585.9,465.5 583.9,465.7C582,465.9 578.3,466 576.4,465.7C574.4,465.4 571.9,464.4 570.3,463.5C568.7,462.5 566.3,460.3 565,458.9C563.7,457.5 561.6,455.1 561.2,453.6C560.8,452.1 560.7,449.3 562,448.3Z"/><path d="M593,471C593.4,470.1 594.8,468.2 596.1,467.2C597.3,466.3 599.9,464.9 602.1,464.2C604.4,463.6 609.8,462.6 612,462.7C614.1,462.8 615.7,463.8 617.3,465C618.9,466.2 621.8,469.5 623.3,471C624.8,472.5 627.4,474.4 627.9,475.6C628.3,476.8 627.4,478.1 626.4,479.4C625.3,480.7 622.2,483.2 620.3,484.7C618.4,486.2 614.4,489.5 612.7,490C611,490.4 609.9,488.4 608.2,487.7C606.5,486.9 602.3,486 600.6,484.7C598.9,483.4 597,480.1 596.1,478.6C595.1,477.1 594.2,475.1 593.8,474.1C593.4,473 592.7,472 593,471Z"/><path d="M626.4,451.3C626.6,449.9 627.7,449.3 628.6,449.1C629.6,448.8 631.9,449.2 633.2,449.8C634.5,450.5 636.8,452.5 637.7,453.6C638.7,454.7 639.9,456.4 640,457.4C640.1,458.4 639.8,459.9 638.5,460.4C637.2,461 632.5,461.4 630.9,461.2C629.3,461 627.8,460.3 627.1,458.9C626.5,457.5 626.1,452.7 626.4,451.3Z"/><path d="M642.3,463C643.4,461.7 647.2,460.6 649.7,459.9C652.2,459.3 657.4,458.8 660,458.6C662.6,458.3 666,458 668.1,458.3C670.2,458.6 673.5,460 674.9,461C676.2,462 677.8,463.9 677.6,465.1C677.4,466.2 675.1,468 673.5,469.1C672,470.3 668.4,471.8 666.8,473.2C665.1,474.5 663.5,477.5 661.9,478.6C660.3,479.7 657.1,480.5 655.1,480.6C653.2,480.8 650.1,480.4 648.4,479.7C646.6,479 643.9,477.4 643,475.9C642,474.4 641.7,470.9 641.6,469.1C641.5,467.3 641.1,464.3 642.3,463Z"/><path d="M590.9,509.7C591.1,508 594.2,506.2 595.6,504.3C597,502.4 599.1,497.5 601,496.2C602.9,494.8 607.4,494.1 609.1,494.8C610.9,495.6 612,499.1 613.2,501.6C614.3,504.1 617.4,510.1 617.2,512.4C617.1,514.7 614.1,516.7 611.8,517.8C609.5,519 603.6,520.7 601,520.5C598.4,520.4 595,518 593.6,516.5C592.1,515 590.6,511.4 590.9,509.7Z"/><path d="M625.4,492.1C626.2,491 628.9,493.1 630.8,493.5C632.7,493.9 637.4,493.9 638.9,494.8C640.4,495.8 641.8,498.3 641.6,500.3C641.4,502.2 639.1,506.4 637.5,508.4C636,510.4 632.4,514.1 630.8,514.5C629.1,514.8 626.9,512.9 626,511.1C625.2,509.3 624.8,504.3 624.7,501.6C624.6,498.9 624.5,493.3 625.4,492.1Z"/><path d="M649.7,491.5C650.7,489.3 654.4,486.8 655.8,486C657.3,485.3 658.3,485.8 660,486.4C661.8,487.1 665.3,490.3 668.1,490.8C671,491.3 677,490.1 680.3,490.1C683.6,490.1 688.6,489.9 691.1,490.8C693.6,491.6 696.8,494.5 697.9,496.2C699,497.9 699.1,501.2 698.6,503C698,504.7 696.4,507.3 693.8,508.4C691.2,509.4 683.9,510.2 680.3,510.4C676.7,510.6 671,510 668.1,509.7C665.3,509.5 662.2,509 660,508.6C657.8,508.3 654,508 652.4,507C650.9,506 649.4,503.8 649,501.6C648.7,499.4 648.8,493.7 649.7,491.5Z"/><path d="M651.8,530.7C651.5,528.5 653.9,524 655.1,521.9C656.4,519.9 658.7,517.1 660.5,516.2C662.4,515.3 666.3,515.5 668.1,515.4C670,515.3 671.4,515.3 673.5,515.8C675.6,516.3 681,517.8 683,519.2C685,520.6 686.9,524 687.7,526C688.6,527.9 689.6,531.4 689.1,532.7C688.6,534.1 687,535 684.4,535.4C681.8,535.9 674,535.2 670.8,535.7C667.6,536.2 663.8,539 661.9,539.2C660,539.5 658.6,538.7 657.2,537.5C655.7,536.3 652,532.9 651.8,530.7Z"/><path d="M595.6,530C596.6,529.3 599.1,527.8 601,528C602.9,528.2 606.4,530.1 609.1,531.4C611.8,532.6 617.2,535.5 620,536.8C622.7,538 627.2,538.5 628.7,540.2C630.3,541.8 630.5,546.5 630.8,548.3C631.1,550.1 635.3,552.4 630.8,553C626.3,553.7 603.8,554.9 599,553C594.2,551.1 597.6,542.4 596.9,539.5C596.3,536.6 594.4,534.1 594.2,532.7C594.1,531.4 594.6,530.7 595.6,530Z"/><path d="M628.7,523.3C629.8,522.5 634.2,521.9 636.2,521.9C638.2,521.9 641.9,519.5 643,523.3C644,527 643.5,544.1 643.6,548.3C643.7,552.5 644.3,552.4 643.6,553C643,553.7 639.6,553.7 638.9,553C638.2,552.4 639.7,550.6 638.9,548.3C638.1,546 634.9,539.8 633.5,536.8C632,533.8 629.4,529.2 628.7,527.3C628.1,525.4 627.7,524 628.7,523.3Z"/><path d="M640.8,418C634.7,419.9 641,429.2 641.5,431.6C642.1,434.1 643.3,434.5 644.5,435.4C645.7,436.4 648.5,438 650,438.3C651.5,438.6 654,438 655.5,437.8C656.9,437.7 658.7,437.5 660,436.9C661.3,436.4 663.2,434.7 664.5,433.9C665.9,433.2 667.9,432.3 669.8,431.6C671.8,431 676.4,430.4 678.2,429.4C680,428.3 681.9,425.7 682.7,424.1C683.6,422.5 690.2,418.9 684.2,418C678.3,417.1 646.8,416.1 640.8,418Z"/><path d="M694.1,418C692.2,419 694.3,423.5 694.8,424.8C695.4,426.2 696.8,427.3 697.9,427.5C699,427.7 701.1,427 702.4,426.3C703.7,425.6 706.1,423.7 707,422.5C707.8,421.4 710.3,418.6 708.5,418C706.7,417.4 696,417 694.1,418Z"/><path d="M722.9,418C718.6,419.3 724.4,424.9 725.2,427.1C725.9,429.2 727.2,431.9 728.2,433.2C729.1,434.4 729.6,435.8 732,436.2C734.3,436.6 742.5,436.6 744.8,436.2C747.2,435.8 747.6,434.4 748.6,433.2C749.7,431.9 751.5,429.2 752.4,427.1C753.4,424.9 759.6,419.3 755.5,418C751.3,416.7 727.2,416.7 722.9,418Z"/><path d="M677.4,439.2C678,438.1 679.3,437.6 680.5,436.9C681.6,436.2 684.4,434.4 685.8,434.3C687.2,434.2 688.8,435.6 690.3,436.2C691.8,436.7 694.6,438.2 696.4,438.1C698.1,437.9 700.7,435.8 702.4,435C704.1,434.3 707,433.1 708.5,432.8C710,432.5 711.8,432.4 713,432.8C714.2,433.1 716.1,434.4 716.8,435.4C717.5,436.4 718,438.5 718,440C718,441.5 717.3,444.3 716.8,446C716.3,447.7 715.2,450.8 714.5,452.1C713.9,453.4 713.6,454.7 712.3,455.1C711,455.5 707.7,455 705.5,454.7C703.2,454.5 699,453.4 696.4,453.2C693.7,453.1 688.8,453.7 686.5,453.6C684.3,453.5 681.8,453 680.5,452.5C679.1,451.9 677.6,450.9 677,449.8C676.5,448.7 676.2,446 676.3,444.5C676.3,443 676.8,440.3 677.4,439.2Z"/><path d="M724.4,449.8C724.5,448.9 725.4,447.5 725.9,446.8C726.4,446.1 726.8,445.1 728.2,444.9C729.6,444.7 733.6,445.5 735.8,445.7C737.9,445.8 741.7,445.8 743.3,446C744.9,446.3 746.4,447 747.1,447.5C747.8,448.1 748.5,449.1 748.3,449.8C748,450.6 746.8,452 745.6,452.8C744.4,453.7 741.5,455.2 739.5,455.9C737.6,456.5 733.7,457.3 732,457.4C730.3,457.5 728.4,457.2 727.4,456.6C726.5,456.1 725.6,454.6 725.2,453.6C724.7,452.6 724.3,450.8 724.4,449.8Z"/><path d="M683.5,471C682.8,471.3 684.8,474.6 685.8,475.6C686.7,476.5 688.8,477.4 690.3,477.8C691.8,478.3 694.8,478.1 696.4,478.6C698,479.1 700.2,480.6 701.7,481.6C703.2,482.7 705.7,484.9 707,486.2C708.3,487.5 709.9,490 710.8,490.7C711.6,491.4 712.1,491.8 713,491.1C714,490.5 716.3,488.2 717.6,486.2C718.9,484.2 721,479.2 722.1,477.1C723.2,474.9 724.7,472.4 725.2,471C725.6,469.6 725.5,468.1 725.2,467.2C724.8,466.4 724.2,465.4 722.9,465C721.6,464.5 718.1,464.1 716.1,464.2C714,464.3 710.6,465.2 708.5,465.7C706.3,466.3 703.1,467 700.9,468C698.8,469 694.8,471.7 693.3,472.5C691.8,473.4 691.7,473.9 690.3,473.7C688.9,473.5 684.1,470.8 683.5,471Z"/><path d="M732.7,469.5C733.3,468.5 734.8,470.3 735.8,470.3C736.7,470.3 738.3,469.4 739.5,469.5C740.8,469.6 743.7,470.2 744.8,471C746,471.9 747.6,474.2 747.9,475.6C748.2,477 747.8,479.4 747.1,480.9C746.5,482.4 744.6,484.9 743.3,486.2C742,487.5 739.3,489.3 738,490C736.7,490.6 735.1,491.3 734.2,490.7C733.4,490.2 732.3,488.1 732,486.2C731.6,484.2 731.5,479.5 731.6,477.1C731.7,474.7 732.1,470.5 732.7,469.5Z"/><path d="M699.9,515.8C700.6,513.9 703.6,510.4 706,508.4C708.4,506.4 713.8,503.1 716.8,501.6C719.9,500.1 725,497.8 727.7,497.5C730.3,497.3 733.7,498.2 735.8,499.6C737.9,500.9 741.4,505.2 742.5,507C743.7,508.8 744.5,511.2 743.9,512.4C743.3,513.7 740.8,515 738.5,515.8C736.2,516.6 730.7,517.1 727.7,517.8C724.6,518.6 719.9,520.4 716.8,521.2C713.8,522.1 708.2,523.8 706,523.9C703.8,524 702.1,523.1 701.3,521.9C700.4,520.8 699.2,517.7 699.9,515.8Z"/><path d="M694.5,538.1C694.4,536.6 697.4,533.8 699.2,532.7C701.1,531.7 705.1,530.7 707.4,530.7C709.7,530.7 713.6,531.9 715.5,532.7C717.4,533.6 720.3,535.4 720.9,536.8C721.5,538.1 720.3,540.6 719.5,542.2C718.8,543.8 716.1,546.8 715.5,548.3C714.9,549.8 717.6,552.4 715.5,553C713.4,553.7 702.7,553.7 700.6,553C698.5,552.4 700.7,549.6 700.6,548.3C700.5,546.9 700.8,545 699.9,543.6C699.1,542.1 694.6,539.7 694.5,538.1Z"/><path d="M731,530C732,528.5 735.3,526.1 737.1,526C739,525.9 742.2,528 743.9,529.3C745.6,530.7 748.4,533.9 749.3,535.4C750.3,537 751,539.1 750.7,540.2C750.3,541.2 748.5,542.4 746.6,542.9C744.7,543.4 739.2,543.4 737.1,543.6C735,543.7 732.7,545.2 731.7,544.2C730.8,543.3 730.5,538.8 730.4,536.8C730.3,534.8 730.1,531.6 731,530Z"/></g></g></g>
<defs><filter id="cubeTex" color-interpolation-filters="sRGB" x="-0.02" y="-0.02" width="1.04" height="1.04"><feTurbulence type="fractalNoise" baseFrequency="0.42 0.42" numOctaves="2" seed="11" result="n"/><feColorMatrix in="n" type="matrix" values="0.10 0 0 0 -0.01  0.52 0 0 0 -0.005  0.86 0 0 0 0.10  0 0 0 0 1" result="c"/><feComposite in="c" in2="SourceGraphic" operator="in"/></filter><filter id="ctTex" color-interpolation-filters="sRGB" x="0" y="0" width="1" height="1"><feTurbulence type="fractalNoise" baseFrequency="0.11 0.11" numOctaves="4" seed="5" result="n"/><feColorMatrix in="n" type="matrix" values="1.6 0 0 0 -0.09  1.6 0 0 0 -0.09  1.6 0 0 0 -0.09  0 0 0 0 1" result="g"/><feGaussianBlur in="SourceGraphic" stdDeviation="1.1" result="sb"/><feBlend in="sb" in2="g" mode="multiply"/></filter><pattern id="dots" width="1.9" height="1.9" patternUnits="userSpaceOnUse"><rect x="0.5" y="0.3" width="0.8" height="1.3" fill="#fff" fill-opacity="0.85"/></pattern><filter id="soft" x="-0.2" y="-0.2" width="1.4" height="1.4"><feGaussianBlur stdDeviation="0.9"/></filter><clipPath id="ctClip"><polygon points="110,62 1190,62 1190,840 1110,820 1040,830 980,870 760,880 690,840 670,840 680,920 640,960 590,920 550,900 520,965 280,965 180,920 150,870 110,880 60,870 50,690 90,640 130,600 160,540 175,440 180,290 130,280 70,295 85,150" transform="translate(108,420) scale(0.12077)"/></clipPath></defs><polygon points="3,447.8 43.6,439.1 82.7,446.7 79.1,500 43.1,527.9 9.6,503.1" fill="none" stroke="#f6e6d6" stroke-width="1.6" stroke-linejoin="round"/><polygon points="3,447.8 43.6,439.1 82.7,446.7 79.1,500 43.1,527.9 9.6,503.1" fill="#0d52a8" stroke="#0d52a8" stroke-width="0.8" stroke-linejoin="round" filter="url(#cubeTex)"/><polygon points="41.6,460.4 82.7,446.7 79.1,500 43.1,527.9" fill="#063880" fill-opacity="0.16"/><polygon points="3,447.8 43.6,439.1 82.7,446.7 41.6,460.4" fill="#3a86e0" fill-opacity="0.10"/><ellipse cx="60" cy="494" rx="8.5" ry="13" fill="#044894" fill-opacity="0.92" filter="url(#soft)" transform="rotate(12 60 494)"/><polygon points="41.9,461.5 45,460.5 44.2,492 42.3,500" fill="#064c9c" fill-opacity="0.85"/><polyline points="3,447.8 41.6,460.4 82.7,446.7" fill="none" stroke="#6b6258" stroke-width="0.5" stroke-opacity="0.8"/><line x1="41.6" y1="460.4" x2="43.1" y2="527.9" stroke="#4a4a50" stroke-width="0.5" stroke-opacity="0.7"/><g fill="none" stroke="#e61c24" stroke-width="1.2"><rect x="59.9" y="454.3" width="12.6" height="19.4"/><line x1="66.5" y1="454.3" x2="112.6" y2="426.4"/><line x1="60.1" y1="473.8" x2="112.6" y2="538.4"/></g><g clip-path="url(#ctClip)"><g filter="url(#ctTex)"><g transform="translate(108,420) scale(0.12077)"><rect x="-100" y="-100" width="1500" height="1300" fill="#5c5c5a"/><polygon points="110,62 400,62 420,150 380,250 180,290 130,280 70,295 85,150" fill="#6c6c6a"/><polygon points="400,62 1040,62 1040,300 900,420 700,300 620,280 420,150" fill="#626260"/><polygon points="1190,300 1100,400 1000,500 920,580 900,625 1000,612 1100,622 1190,600" fill="#a0a09c"/><polygon points="920,585 820,640 740,720 640,790 520,820 500,775 600,700 700,650 800,610 900,570" fill="#8a8a86"/><polygon points="130,790 520,800 640,790 665,840 560,900 520,965 280,965 180,920 150,870 110,880 60,870 55,780" fill="#92928e"/><polygon points="1040,100 1190,62 1190,300 1120,290 1050,200" fill="#404040"/><polygon points="700,760 900,640 1000,700 1190,610 1190,840 1110,820 1040,830 980,870 760,880 690,840" fill="#565654"/><polygon points="180,300 330,290 380,500 300,640 130,600 160,540 175,440" fill="#4f4f4d"/><polygon points="50,690 90,640 130,600 300,640 480,700 480,800 130,790 55,780" fill="#5f5f5c"/><polygon points="398,62 445,62 436,180 392,285 362,262 412,150" fill="#8e8e8a"/><polygon points="640,300 760,330 800,480 700,600 620,560" fill="#3c3c3a"/><polygon points="560,900 600,930 640,960 680,920 672,845 600,860" fill="#8a8a86"/><ellipse cx="500" cy="440" rx="125" ry="170" fill="#2e2e2e"/></g></g><g transform="translate(108,420) scale(0.12077)"></g><rect x="135" y="521" width="37" height="16.5" fill="url(#dots)"/><rect x="232" y="478" width="14" height="16" fill="url(#dots)" opacity="0.7"/><g transform="translate(108,420) scale(0.12077)" fill="#fff"><polygon points="372,590 402,556 410,474 438,496 452,528 476,486 508,516 526,560 508,600 474,616 452,646 408,630"/><polygon points="470,640 505,625 520,660 500,700 478,690"/><polygon points="468,690 495,680 500,715 478,722"/><polygon points="905,615 932,622 928,642 902,636"/><polygon points="895,680 940,678 942,698 900,700"/><polygon points="1040,668 1060,672 1055,702 1036,698"/><polygon points="1008,742 1030,745 1028,772 1006,768"/><polygon points="900,805 935,798 945,830 915,845 895,830"/></g></g><rect x="112.9" y="426.3" width="141.8" height="112.1" fill="none" stroke="#ff5a5a" stroke-width="1.2"/>
</svg>
</body></html>
